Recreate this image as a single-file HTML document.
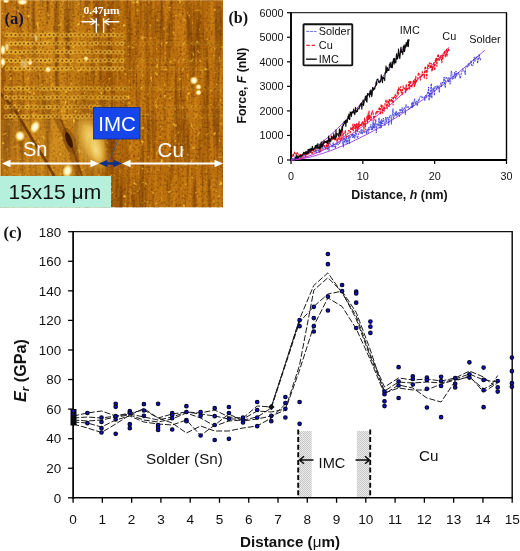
<!DOCTYPE html>
<html><head><meta charset="utf-8"><title>Figure</title>
<style>
html,body{margin:0;padding:0;background:#fff;}
body{width:520px;height:551px;overflow:hidden;}
svg{display:block;}
text{font-family:"Liberation Sans",sans-serif;}
.ser{font-family:"Liberation Serif",serif;font-weight:bold;}
</style></head><body>
<svg width="520" height="551" viewBox="0 0 520 551">
<defs>
<linearGradient id="afmg" x1="0" x2="1" y1="0" y2="0">
<stop offset="0" stop-color="#9c5806"/><stop offset="0.04" stop-color="#bc7212"/><stop offset="0.3" stop-color="#c47e16"/><stop offset="0.47" stop-color="#a86008"/><stop offset="0.6" stop-color="#ba6f0d"/><stop offset="1" stop-color="#b86d0d"/>
</linearGradient>
<radialGradient id="blob"><stop offset="0" stop-color="#f6e090" stop-opacity="0.95"/><stop offset="0.6" stop-color="#ecc050" stop-opacity="0.65"/><stop offset="1" stop-color="#d09020" stop-opacity="0"/></radialGradient>
<radialGradient id="blob2"><stop offset="0" stop-color="#ecc658" stop-opacity="0.6"/><stop offset="0.7" stop-color="#e4b848" stop-opacity="0.4"/><stop offset="1" stop-color="#d8a030" stop-opacity="0"/></radialGradient>
<radialGradient id="wb"><stop offset="0" stop-color="#fffdf0" stop-opacity="1"/><stop offset="0.45" stop-color="#fff4c0" stop-opacity="1"/><stop offset="0.7" stop-color="#f4d060" stop-opacity="0.8"/><stop offset="1" stop-color="#e0a030" stop-opacity="0"/></radialGradient>
<filter id="noise" x="0" y="0" width="100%" height="100%" color-interpolation-filters="sRGB">
<feTurbulence type="fractalNoise" baseFrequency="0.2 0.012" numOctaves="3" seed="5"/>
<feColorMatrix type="matrix" values="0 0 0 0 0.30  0 0 0 0 0.12  0 0 0 0 0  -1.6 0 0 0 0.8"/>
</filter>
<filter id="noiseL" x="0" y="0" width="100%" height="100%" color-interpolation-filters="sRGB">
<feTurbulence type="fractalNoise" baseFrequency="0.2 0.012" numOctaves="3" seed="5"/>
<feColorMatrix type="matrix" values="0 0 0 0 0.92  0 0 0 0 0.62  0 0 0 0 0.12  1.5 0 0 0 -0.7"/>
</filter>
<filter id="noise2" x="0" y="0" width="100%" height="100%" color-interpolation-filters="sRGB">
<feTurbulence type="fractalNoise" baseFrequency="0.22 0.22" numOctaves="2" seed="11"/>
<feColorMatrix type="matrix" values="0 0 0 0 1  0 0 0 0 0.82  0 0 0 0 0.25  0 4.5 0 0 -3.0"/>
</filter>
<filter id="noise3" x="0" y="0" width="100%" height="100%" color-interpolation-filters="sRGB">
<feTurbulence type="fractalNoise" baseFrequency="0.45 0.45" numOctaves="1" seed="23"/>
<feColorMatrix type="matrix" values="0 0 0 0 0.35  0 0 0 0 0.15  0 0 0 0 0  0 0 -2 0 1.0"/>
</filter>
<clipPath id="afmclip"><rect x="0" y="0" width="223" height="207.5"/></clipPath>
<pattern id="hatch" width="2" height="2" patternUnits="userSpaceOnUse"><rect width="2" height="2" fill="#ececec"/><rect width="1" height="1" fill="#c6c6c6"/><rect x="1" y="1" width="1" height="1" fill="#c6c6c6"/></pattern>
</defs>
<g clip-path="url(#afmclip)">
<rect x="0" y="0" width="223" height="207.5" fill="url(#afmg)"/>
<rect x="4" y="31" width="124" height="41" fill="#dca82c" opacity="0.12"/>
<rect x="4" y="85" width="124" height="35" fill="#dca82c" opacity="0.1"/>
<rect x="0" y="0" width="223" height="207.5" filter="url(#noise)" opacity="0.9"/>
<rect x="0" y="0" width="223" height="207.5" filter="url(#noiseL)" opacity="0.8"/>
<rect x="0" y="0" width="223" height="207.5" filter="url(#noise3)" opacity="0.8"/>
<rect x="0" y="0" width="223" height="207.5" filter="url(#noise2)" opacity="0.9"/>
<polygon points="0,120 60,120 100,176 0,176" fill="#e0a830" opacity="0.22"/>
<path d="M0,93 L15,110 L32,139 L47,163 L56,180" stroke="#6a3202" stroke-width="2.6" fill="none" opacity="0.85"/>
<path d="M56,116 L66,136 L74,158 L80,178" stroke="#7a3c04" stroke-width="7" fill="none" opacity="0.42"/>
<path d="M60,118 L70,141 L82,176" stroke="#6a3202" stroke-width="1.6" fill="none" opacity="0.55"/>
<path d="M100,100 L108,130 L112,176" stroke="#7a3c04" stroke-width="5" fill="none" opacity="0.3"/>
<ellipse cx="91" cy="143" rx="17" ry="34" fill="url(#blob2)" transform="rotate(-22 91 143)"/>
<ellipse cx="92" cy="142" rx="13" ry="28" fill="url(#blob)" transform="rotate(-22 92 142)"/>
<ellipse cx="93" cy="141" rx="10" ry="24" fill="url(#blob)" transform="rotate(-22 93 141)"/>
<ellipse cx="96" cy="150" rx="8" ry="17" fill="url(#blob)" transform="rotate(-15 96 150)"/>
<ellipse cx="69.5" cy="141" rx="6" ry="14" fill="#6a3404" opacity="0.4" transform="rotate(-20 69.5 141)"/>
<ellipse cx="69" cy="140" rx="2.8" ry="8.5" fill="#321400" opacity="0.9" transform="rotate(-20 69 140)"/>
<ellipse cx="35" cy="127" rx="5" ry="7.5" fill="url(#wb)" transform="rotate(25 35 127)"/>
<ellipse cx="20" cy="136" rx="5.5" ry="6" fill="url(#wb)" transform="rotate(0 20 136)"/>
<ellipse cx="67.5" cy="171" rx="5.5" ry="7.5" fill="url(#wb)" transform="rotate(15 67.5 171)"/>
<ellipse cx="22.5" cy="2" rx="6" ry="3.5" fill="url(#wb)" transform="rotate(0 22.5 2)"/>
<ellipse cx="6" cy="1" rx="3.5" ry="2.5" fill="url(#wb)" transform="rotate(0 6 1)"/>
<ellipse cx="194" cy="80.5" rx="4.5" ry="4.5" fill="url(#wb)" transform="rotate(0 194 80.5)"/>
<ellipse cx="198.5" cy="87" rx="3.2" ry="3.2" fill="url(#wb)" transform="rotate(0 198.5 87)"/>
<ellipse cx="198.5" cy="92.5" rx="3.2" ry="3.2" fill="url(#wb)" transform="rotate(0 198.5 92.5)"/>
<ellipse cx="3" cy="50" rx="3" ry="6" fill="url(#wb)" transform="rotate(0 3 50)"/>
<ellipse cx="3" cy="62" rx="3" ry="5" fill="url(#wb)" transform="rotate(0 3 62)"/>
<ellipse cx="86" cy="59" rx="3" ry="3" fill="url(#wb)" transform="rotate(0 86 59)"/>
<ellipse cx="30" cy="62" rx="3" ry="4" fill="url(#wb)" transform="rotate(0 30 62)"/>
<circle cx="7.0" cy="34.8" r="1.75" fill="#6e3802" stroke="#e8b432" stroke-width="1.55" opacity="0.60"/><circle cx="11.2" cy="34.7" r="1.75" fill="#6e3802" stroke="#e8b432" stroke-width="1.55" opacity="0.74"/><circle cx="15.5" cy="34.9" r="1.75" fill="#6e3802" stroke="#e8b432" stroke-width="1.55" opacity="0.69"/><circle cx="19.8" cy="35.0" r="1.75" fill="#6e3802" stroke="#e8b432" stroke-width="1.55" opacity="0.48"/><circle cx="24.0" cy="35.0" r="1.75" fill="#6e3802" stroke="#e8b432" stroke-width="1.55" opacity="0.47"/><circle cx="28.2" cy="34.7" r="1.75" fill="#6e3802" stroke="#e8b432" stroke-width="1.55" opacity="0.48"/><circle cx="32.5" cy="35.2" r="1.75" fill="#6e3802" stroke="#e8b432" stroke-width="1.55" opacity="0.64"/><circle cx="36.8" cy="34.8" r="1.75" fill="#6e3802" stroke="#e8b432" stroke-width="1.55" opacity="0.51"/><circle cx="41.0" cy="35.3" r="1.75" fill="#6e3802" stroke="#e8b432" stroke-width="1.55" opacity="0.73"/><circle cx="45.2" cy="34.9" r="1.75" fill="#6e3802" stroke="#e8b432" stroke-width="1.55" opacity="0.71"/><circle cx="49.5" cy="34.7" r="1.75" fill="#6e3802" stroke="#e8b432" stroke-width="1.55" opacity="0.89"/><circle cx="53.8" cy="34.9" r="1.75" fill="#6e3802" stroke="#e8b432" stroke-width="1.55" opacity="0.84"/><circle cx="58.0" cy="34.7" r="1.75" fill="#6e3802" stroke="#e8b432" stroke-width="1.55" opacity="0.51"/><circle cx="62.2" cy="35.2" r="1.75" fill="#6e3802" stroke="#e8b432" stroke-width="1.55" opacity="0.59"/><circle cx="66.5" cy="35.1" r="1.75" fill="#6e3802" stroke="#e8b432" stroke-width="1.55" opacity="0.53"/><circle cx="70.8" cy="34.9" r="1.75" fill="#6e3802" stroke="#e8b432" stroke-width="1.55" opacity="0.74"/><circle cx="75.0" cy="34.7" r="1.75" fill="#6e3802" stroke="#e8b432" stroke-width="1.55" opacity="0.57"/><circle cx="79.2" cy="34.8" r="1.75" fill="#6e3802" stroke="#e8b432" stroke-width="1.55" opacity="0.39"/><circle cx="83.5" cy="34.9" r="1.75" fill="#6e3802" stroke="#e8b432" stroke-width="1.55" opacity="0.62"/><circle cx="87.8" cy="35.1" r="1.75" fill="#6e3802" stroke="#e8b432" stroke-width="1.55" opacity="0.48"/><circle cx="92.0" cy="34.9" r="1.75" fill="#6e3802" stroke="#e8b432" stroke-width="1.55" opacity="0.54"/><circle cx="96.2" cy="35.1" r="1.75" fill="#6e3802" stroke="#e8b432" stroke-width="1.55" opacity="0.66"/><circle cx="100.5" cy="35.1" r="1.75" fill="#6e3802" stroke="#e8b432" stroke-width="1.55" opacity="0.46"/><circle cx="104.8" cy="35.3" r="1.75" fill="#6e3802" stroke="#e8b432" stroke-width="1.55" opacity="0.56"/><circle cx="109.0" cy="34.9" r="1.75" fill="#6e3802" stroke="#e8b432" stroke-width="1.55" opacity="0.64"/><circle cx="113.2" cy="34.7" r="1.75" fill="#6e3802" stroke="#e8b432" stroke-width="1.55" opacity="0.73"/><circle cx="117.5" cy="35.2" r="1.75" fill="#6e3802" stroke="#e8b432" stroke-width="1.55" opacity="0.52"/><circle cx="121.8" cy="35.0" r="1.75" fill="#6e3802" stroke="#e8b432" stroke-width="1.55" opacity="0.43"/>
<circle cx="7.0" cy="43.6" r="1.75" fill="#6e3802" stroke="#e8b432" stroke-width="1.55" opacity="0.47"/><circle cx="11.2" cy="43.6" r="1.75" fill="#6e3802" stroke="#e8b432" stroke-width="1.55" opacity="0.79"/><circle cx="15.5" cy="43.4" r="1.75" fill="#6e3802" stroke="#e8b432" stroke-width="1.55" opacity="0.84"/><circle cx="19.8" cy="43.6" r="1.75" fill="#6e3802" stroke="#e8b432" stroke-width="1.55" opacity="0.76"/><circle cx="24.0" cy="43.5" r="1.75" fill="#6e3802" stroke="#e8b432" stroke-width="1.55" opacity="0.71"/><circle cx="28.2" cy="43.8" r="1.75" fill="#6e3802" stroke="#e8b432" stroke-width="1.55" opacity="0.83"/><circle cx="32.5" cy="43.6" r="1.75" fill="#6e3802" stroke="#e8b432" stroke-width="1.55" opacity="0.66"/><circle cx="36.8" cy="43.6" r="1.75" fill="#6e3802" stroke="#e8b432" stroke-width="1.55" opacity="0.48"/><circle cx="41.0" cy="43.8" r="1.75" fill="#6e3802" stroke="#e8b432" stroke-width="1.55" opacity="0.74"/><circle cx="45.2" cy="43.3" r="1.75" fill="#6e3802" stroke="#e8b432" stroke-width="1.55" opacity="0.82"/><circle cx="49.5" cy="43.6" r="1.75" fill="#6e3802" stroke="#e8b432" stroke-width="1.55" opacity="0.62"/><circle cx="53.8" cy="43.5" r="1.75" fill="#6e3802" stroke="#e8b432" stroke-width="1.55" opacity="0.46"/><circle cx="58.0" cy="43.2" r="1.75" fill="#6e3802" stroke="#e8b432" stroke-width="1.55" opacity="0.53"/><circle cx="62.2" cy="43.7" r="1.75" fill="#6e3802" stroke="#e8b432" stroke-width="1.55" opacity="0.48"/><circle cx="66.5" cy="43.3" r="1.75" fill="#6e3802" stroke="#e8b432" stroke-width="1.55" opacity="0.51"/><circle cx="70.8" cy="43.8" r="1.75" fill="#6e3802" stroke="#e8b432" stroke-width="1.55" opacity="0.63"/><circle cx="75.0" cy="43.5" r="1.75" fill="#6e3802" stroke="#e8b432" stroke-width="1.55" opacity="0.40"/><circle cx="79.2" cy="43.8" r="1.75" fill="#6e3802" stroke="#e8b432" stroke-width="1.55" opacity="0.57"/><circle cx="83.5" cy="43.8" r="1.75" fill="#6e3802" stroke="#e8b432" stroke-width="1.55" opacity="0.67"/><circle cx="87.8" cy="43.4" r="1.75" fill="#6e3802" stroke="#e8b432" stroke-width="1.55" opacity="0.47"/><circle cx="92.0" cy="43.8" r="1.75" fill="#6e3802" stroke="#e8b432" stroke-width="1.55" opacity="0.50"/><circle cx="96.2" cy="43.3" r="1.75" fill="#6e3802" stroke="#e8b432" stroke-width="1.55" opacity="0.72"/><circle cx="100.5" cy="43.3" r="1.75" fill="#6e3802" stroke="#e8b432" stroke-width="1.55" opacity="0.43"/><circle cx="104.8" cy="43.5" r="1.75" fill="#6e3802" stroke="#e8b432" stroke-width="1.55" opacity="0.46"/><circle cx="109.0" cy="43.3" r="1.75" fill="#6e3802" stroke="#e8b432" stroke-width="1.55" opacity="0.59"/><circle cx="113.2" cy="43.4" r="1.75" fill="#6e3802" stroke="#e8b432" stroke-width="1.55" opacity="0.37"/><circle cx="117.5" cy="43.5" r="1.75" fill="#6e3802" stroke="#e8b432" stroke-width="1.55" opacity="0.51"/><circle cx="121.8" cy="43.6" r="1.75" fill="#6e3802" stroke="#e8b432" stroke-width="1.55" opacity="0.72"/>
<circle cx="7.0" cy="52.1" r="1.75" fill="#6e3802" stroke="#e8b432" stroke-width="1.55" opacity="0.68"/><circle cx="11.2" cy="51.7" r="1.75" fill="#6e3802" stroke="#e8b432" stroke-width="1.55" opacity="0.75"/><circle cx="15.5" cy="52.2" r="1.75" fill="#6e3802" stroke="#e8b432" stroke-width="1.55" opacity="0.85"/><circle cx="19.8" cy="52.2" r="1.75" fill="#6e3802" stroke="#e8b432" stroke-width="1.55" opacity="0.84"/><circle cx="24.0" cy="51.9" r="1.75" fill="#6e3802" stroke="#e8b432" stroke-width="1.55" opacity="0.63"/><circle cx="28.2" cy="52.1" r="1.75" fill="#6e3802" stroke="#e8b432" stroke-width="1.55" opacity="0.50"/><circle cx="32.5" cy="51.7" r="1.75" fill="#6e3802" stroke="#e8b432" stroke-width="1.55" opacity="0.48"/><circle cx="36.8" cy="51.8" r="1.75" fill="#6e3802" stroke="#e8b432" stroke-width="1.55" opacity="0.54"/><circle cx="41.0" cy="51.7" r="1.75" fill="#6e3802" stroke="#e8b432" stroke-width="1.55" opacity="0.60"/><circle cx="45.2" cy="51.8" r="1.75" fill="#6e3802" stroke="#e8b432" stroke-width="1.55" opacity="0.45"/><circle cx="49.5" cy="51.9" r="1.75" fill="#6e3802" stroke="#e8b432" stroke-width="1.55" opacity="0.50"/><circle cx="53.8" cy="52.3" r="1.75" fill="#6e3802" stroke="#e8b432" stroke-width="1.55" opacity="0.46"/><circle cx="58.0" cy="51.8" r="1.75" fill="#6e3802" stroke="#e8b432" stroke-width="1.55" opacity="0.73"/><circle cx="62.2" cy="51.9" r="1.75" fill="#6e3802" stroke="#e8b432" stroke-width="1.55" opacity="0.56"/><circle cx="66.5" cy="51.7" r="1.75" fill="#6e3802" stroke="#e8b432" stroke-width="1.55" opacity="0.61"/><circle cx="70.8" cy="52.3" r="1.75" fill="#6e3802" stroke="#e8b432" stroke-width="1.55" opacity="0.83"/><circle cx="75.0" cy="52.0" r="1.75" fill="#6e3802" stroke="#e8b432" stroke-width="1.55" opacity="0.54"/><circle cx="79.2" cy="51.7" r="1.75" fill="#6e3802" stroke="#e8b432" stroke-width="1.55" opacity="0.40"/><circle cx="83.5" cy="51.8" r="1.75" fill="#6e3802" stroke="#e8b432" stroke-width="1.55" opacity="0.50"/><circle cx="87.8" cy="51.8" r="1.75" fill="#6e3802" stroke="#e8b432" stroke-width="1.55" opacity="0.67"/><circle cx="92.0" cy="52.3" r="1.75" fill="#6e3802" stroke="#e8b432" stroke-width="1.55" opacity="0.38"/><circle cx="96.2" cy="51.8" r="1.75" fill="#6e3802" stroke="#e8b432" stroke-width="1.55" opacity="0.56"/><circle cx="100.5" cy="51.7" r="1.75" fill="#6e3802" stroke="#e8b432" stroke-width="1.55" opacity="0.57"/><circle cx="104.8" cy="52.3" r="1.75" fill="#6e3802" stroke="#e8b432" stroke-width="1.55" opacity="0.56"/><circle cx="109.0" cy="52.1" r="1.75" fill="#6e3802" stroke="#e8b432" stroke-width="1.55" opacity="0.69"/><circle cx="113.2" cy="51.9" r="1.75" fill="#6e3802" stroke="#e8b432" stroke-width="1.55" opacity="0.47"/><circle cx="117.5" cy="52.2" r="1.75" fill="#6e3802" stroke="#e8b432" stroke-width="1.55" opacity="0.43"/><circle cx="121.8" cy="52.2" r="1.75" fill="#6e3802" stroke="#e8b432" stroke-width="1.55" opacity="0.57"/>
<circle cx="7.0" cy="60.3" r="1.75" fill="#6e3802" stroke="#e8b432" stroke-width="1.55" opacity="0.60"/><circle cx="11.2" cy="60.8" r="1.75" fill="#6e3802" stroke="#e8b432" stroke-width="1.55" opacity="0.82"/><circle cx="15.5" cy="60.7" r="1.75" fill="#6e3802" stroke="#e8b432" stroke-width="1.55" opacity="0.83"/><circle cx="19.8" cy="60.7" r="1.75" fill="#6e3802" stroke="#e8b432" stroke-width="1.55" opacity="0.82"/><circle cx="24.0" cy="60.5" r="1.75" fill="#6e3802" stroke="#e8b432" stroke-width="1.55" opacity="0.55"/><circle cx="28.2" cy="60.2" r="1.75" fill="#6e3802" stroke="#e8b432" stroke-width="1.55" opacity="0.61"/><circle cx="32.5" cy="60.3" r="1.75" fill="#6e3802" stroke="#e8b432" stroke-width="1.55" opacity="0.46"/><circle cx="36.8" cy="60.6" r="1.75" fill="#6e3802" stroke="#e8b432" stroke-width="1.55" opacity="0.57"/><circle cx="41.0" cy="60.5" r="1.75" fill="#6e3802" stroke="#e8b432" stroke-width="1.55" opacity="0.88"/><circle cx="45.2" cy="60.8" r="1.75" fill="#6e3802" stroke="#e8b432" stroke-width="1.55" opacity="0.87"/><circle cx="49.5" cy="60.4" r="1.75" fill="#6e3802" stroke="#e8b432" stroke-width="1.55" opacity="0.88"/><circle cx="53.8" cy="60.3" r="1.75" fill="#6e3802" stroke="#e8b432" stroke-width="1.55" opacity="0.55"/><circle cx="58.0" cy="60.3" r="1.75" fill="#6e3802" stroke="#e8b432" stroke-width="1.55" opacity="0.54"/><circle cx="62.2" cy="60.8" r="1.75" fill="#6e3802" stroke="#e8b432" stroke-width="1.55" opacity="0.73"/><circle cx="66.5" cy="60.5" r="1.75" fill="#6e3802" stroke="#e8b432" stroke-width="1.55" opacity="0.83"/><circle cx="70.8" cy="60.7" r="1.75" fill="#6e3802" stroke="#e8b432" stroke-width="1.55" opacity="0.74"/><circle cx="75.0" cy="60.6" r="1.75" fill="#6e3802" stroke="#e8b432" stroke-width="1.55" opacity="0.40"/><circle cx="79.2" cy="60.7" r="1.75" fill="#6e3802" stroke="#e8b432" stroke-width="1.55" opacity="0.70"/><circle cx="83.5" cy="60.5" r="1.75" fill="#6e3802" stroke="#e8b432" stroke-width="1.55" opacity="0.65"/><circle cx="87.8" cy="60.7" r="1.75" fill="#6e3802" stroke="#e8b432" stroke-width="1.55" opacity="0.43"/><circle cx="92.0" cy="60.7" r="1.75" fill="#6e3802" stroke="#e8b432" stroke-width="1.55" opacity="0.49"/><circle cx="96.2" cy="60.4" r="1.75" fill="#6e3802" stroke="#e8b432" stroke-width="1.55" opacity="0.73"/><circle cx="100.5" cy="60.8" r="1.75" fill="#6e3802" stroke="#e8b432" stroke-width="1.55" opacity="0.52"/><circle cx="104.8" cy="60.3" r="1.75" fill="#6e3802" stroke="#e8b432" stroke-width="1.55" opacity="0.64"/><circle cx="109.0" cy="60.3" r="1.75" fill="#6e3802" stroke="#e8b432" stroke-width="1.55" opacity="0.42"/><circle cx="113.2" cy="60.7" r="1.75" fill="#6e3802" stroke="#e8b432" stroke-width="1.55" opacity="0.70"/><circle cx="117.5" cy="60.7" r="1.75" fill="#6e3802" stroke="#e8b432" stroke-width="1.55" opacity="0.42"/><circle cx="121.8" cy="60.6" r="1.75" fill="#6e3802" stroke="#e8b432" stroke-width="1.55" opacity="0.73"/>
<circle cx="7.0" cy="68.5" r="1.75" fill="#6e3802" stroke="#e8b432" stroke-width="1.55" opacity="0.61"/><circle cx="11.2" cy="68.2" r="1.75" fill="#6e3802" stroke="#e8b432" stroke-width="1.55" opacity="0.51"/><circle cx="15.5" cy="68.6" r="1.75" fill="#6e3802" stroke="#e8b432" stroke-width="1.55" opacity="0.89"/><circle cx="19.8" cy="68.8" r="1.75" fill="#6e3802" stroke="#e8b432" stroke-width="1.55" opacity="0.69"/><circle cx="24.0" cy="68.8" r="1.75" fill="#6e3802" stroke="#e8b432" stroke-width="1.55" opacity="0.65"/><circle cx="28.2" cy="68.3" r="1.75" fill="#6e3802" stroke="#e8b432" stroke-width="1.55" opacity="0.82"/><circle cx="32.5" cy="68.4" r="1.75" fill="#6e3802" stroke="#e8b432" stroke-width="1.55" opacity="0.56"/><circle cx="36.8" cy="68.6" r="1.75" fill="#6e3802" stroke="#e8b432" stroke-width="1.55" opacity="0.56"/><circle cx="41.0" cy="68.4" r="1.75" fill="#6e3802" stroke="#e8b432" stroke-width="1.55" opacity="0.57"/><circle cx="45.2" cy="68.8" r="1.75" fill="#6e3802" stroke="#e8b432" stroke-width="1.55" opacity="0.51"/><circle cx="49.5" cy="68.5" r="1.75" fill="#6e3802" stroke="#e8b432" stroke-width="1.55" opacity="0.61"/><circle cx="53.8" cy="68.8" r="1.75" fill="#6e3802" stroke="#e8b432" stroke-width="1.55" opacity="0.71"/><circle cx="58.0" cy="68.8" r="1.75" fill="#6e3802" stroke="#e8b432" stroke-width="1.55" opacity="0.64"/><circle cx="62.2" cy="68.5" r="1.75" fill="#6e3802" stroke="#e8b432" stroke-width="1.55" opacity="0.68"/><circle cx="66.5" cy="68.2" r="1.75" fill="#6e3802" stroke="#e8b432" stroke-width="1.55" opacity="0.69"/><circle cx="70.8" cy="68.3" r="1.75" fill="#6e3802" stroke="#e8b432" stroke-width="1.55" opacity="0.65"/><circle cx="75.0" cy="68.7" r="1.75" fill="#6e3802" stroke="#e8b432" stroke-width="1.55" opacity="0.37"/><circle cx="79.2" cy="68.5" r="1.75" fill="#6e3802" stroke="#e8b432" stroke-width="1.55" opacity="0.43"/><circle cx="83.5" cy="68.5" r="1.75" fill="#6e3802" stroke="#e8b432" stroke-width="1.55" opacity="0.64"/><circle cx="87.8" cy="68.5" r="1.75" fill="#6e3802" stroke="#e8b432" stroke-width="1.55" opacity="0.49"/><circle cx="92.0" cy="68.7" r="1.75" fill="#6e3802" stroke="#e8b432" stroke-width="1.55" opacity="0.57"/><circle cx="96.2" cy="68.5" r="1.75" fill="#6e3802" stroke="#e8b432" stroke-width="1.55" opacity="0.41"/><circle cx="100.5" cy="68.3" r="1.75" fill="#6e3802" stroke="#e8b432" stroke-width="1.55" opacity="0.46"/><circle cx="104.8" cy="68.5" r="1.75" fill="#6e3802" stroke="#e8b432" stroke-width="1.55" opacity="0.65"/><circle cx="109.0" cy="68.7" r="1.75" fill="#6e3802" stroke="#e8b432" stroke-width="1.55" opacity="0.58"/><circle cx="113.2" cy="68.5" r="1.75" fill="#6e3802" stroke="#e8b432" stroke-width="1.55" opacity="0.71"/><circle cx="117.5" cy="68.5" r="1.75" fill="#6e3802" stroke="#e8b432" stroke-width="1.55" opacity="0.60"/><circle cx="121.8" cy="68.6" r="1.75" fill="#6e3802" stroke="#e8b432" stroke-width="1.55" opacity="0.56"/>
<circle cx="6.0" cy="88.5" r="1.75" fill="#6e3802" stroke="#e8b432" stroke-width="1.55" opacity="0.58"/><circle cx="10.2" cy="88.8" r="1.75" fill="#6e3802" stroke="#e8b432" stroke-width="1.55" opacity="0.59"/><circle cx="14.5" cy="88.8" r="1.75" fill="#6e3802" stroke="#e8b432" stroke-width="1.55" opacity="0.68"/><circle cx="18.8" cy="88.3" r="1.75" fill="#6e3802" stroke="#e8b432" stroke-width="1.55" opacity="0.78"/><circle cx="23.0" cy="88.8" r="1.75" fill="#6e3802" stroke="#e8b432" stroke-width="1.55" opacity="0.62"/><circle cx="27.2" cy="88.2" r="1.75" fill="#6e3802" stroke="#e8b432" stroke-width="1.55" opacity="0.74"/><circle cx="31.5" cy="88.5" r="1.75" fill="#6e3802" stroke="#e8b432" stroke-width="1.55" opacity="0.45"/><circle cx="35.8" cy="88.3" r="1.75" fill="#6e3802" stroke="#e8b432" stroke-width="1.55" opacity="0.43"/><circle cx="40.0" cy="88.6" r="1.75" fill="#6e3802" stroke="#e8b432" stroke-width="1.55" opacity="0.43"/><circle cx="44.2" cy="88.8" r="1.75" fill="#6e3802" stroke="#e8b432" stroke-width="1.55" opacity="0.71"/><circle cx="48.5" cy="88.7" r="1.75" fill="#6e3802" stroke="#e8b432" stroke-width="1.55" opacity="0.46"/><circle cx="52.8" cy="88.3" r="1.75" fill="#6e3802" stroke="#e8b432" stroke-width="1.55" opacity="0.66"/><circle cx="57.0" cy="88.8" r="1.75" fill="#6e3802" stroke="#e8b432" stroke-width="1.55" opacity="0.75"/><circle cx="61.2" cy="88.8" r="1.75" fill="#6e3802" stroke="#e8b432" stroke-width="1.55" opacity="0.49"/><circle cx="65.5" cy="88.5" r="1.75" fill="#6e3802" stroke="#e8b432" stroke-width="1.55" opacity="0.56"/><circle cx="69.8" cy="88.7" r="1.75" fill="#6e3802" stroke="#e8b432" stroke-width="1.55" opacity="0.80"/><circle cx="74.0" cy="88.5" r="1.75" fill="#6e3802" stroke="#e8b432" stroke-width="1.55" opacity="0.46"/><circle cx="78.2" cy="88.4" r="1.75" fill="#6e3802" stroke="#e8b432" stroke-width="1.55" opacity="0.50"/><circle cx="82.5" cy="88.4" r="1.75" fill="#6e3802" stroke="#e8b432" stroke-width="1.55" opacity="0.39"/><circle cx="86.8" cy="88.2" r="1.75" fill="#6e3802" stroke="#e8b432" stroke-width="1.55" opacity="0.56"/><circle cx="91.0" cy="88.5" r="1.75" fill="#6e3802" stroke="#e8b432" stroke-width="1.55" opacity="0.51"/><circle cx="95.2" cy="88.4" r="1.75" fill="#6e3802" stroke="#e8b432" stroke-width="1.55" opacity="0.33"/><circle cx="99.5" cy="88.5" r="1.75" fill="#6e3802" stroke="#e8b432" stroke-width="1.55" opacity="0.53"/><circle cx="103.8" cy="88.8" r="1.75" fill="#6e3802" stroke="#e8b432" stroke-width="1.55" opacity="0.35"/><circle cx="108.0" cy="88.8" r="1.75" fill="#6e3802" stroke="#e8b432" stroke-width="1.55" opacity="0.59"/><circle cx="112.2" cy="88.3" r="1.75" fill="#6e3802" stroke="#e8b432" stroke-width="1.55" opacity="0.36"/><circle cx="116.5" cy="88.7" r="1.75" fill="#6e3802" stroke="#e8b432" stroke-width="1.55" opacity="0.34"/><circle cx="120.8" cy="88.2" r="1.75" fill="#6e3802" stroke="#e8b432" stroke-width="1.55" opacity="0.42"/><circle cx="125.0" cy="88.8" r="1.75" fill="#6e3802" stroke="#e8b432" stroke-width="1.55" opacity="0.47"/>
<circle cx="6.0" cy="97.3" r="1.75" fill="#6e3802" stroke="#e8b432" stroke-width="1.55" opacity="0.73"/><circle cx="10.2" cy="97.8" r="1.75" fill="#6e3802" stroke="#e8b432" stroke-width="1.55" opacity="0.46"/><circle cx="14.5" cy="97.6" r="1.75" fill="#6e3802" stroke="#e8b432" stroke-width="1.55" opacity="0.63"/><circle cx="18.8" cy="97.2" r="1.75" fill="#6e3802" stroke="#e8b432" stroke-width="1.55" opacity="0.44"/><circle cx="23.0" cy="97.4" r="1.75" fill="#6e3802" stroke="#e8b432" stroke-width="1.55" opacity="0.68"/><circle cx="27.2" cy="97.8" r="1.75" fill="#6e3802" stroke="#e8b432" stroke-width="1.55" opacity="0.43"/><circle cx="31.5" cy="97.7" r="1.75" fill="#6e3802" stroke="#e8b432" stroke-width="1.55" opacity="0.65"/><circle cx="35.8" cy="97.7" r="1.75" fill="#6e3802" stroke="#e8b432" stroke-width="1.55" opacity="0.43"/><circle cx="40.0" cy="97.8" r="1.75" fill="#6e3802" stroke="#e8b432" stroke-width="1.55" opacity="0.43"/><circle cx="44.2" cy="97.4" r="1.75" fill="#6e3802" stroke="#e8b432" stroke-width="1.55" opacity="0.58"/><circle cx="48.5" cy="97.8" r="1.75" fill="#6e3802" stroke="#e8b432" stroke-width="1.55" opacity="0.62"/><circle cx="52.8" cy="97.2" r="1.75" fill="#6e3802" stroke="#e8b432" stroke-width="1.55" opacity="0.51"/><circle cx="57.0" cy="97.3" r="1.75" fill="#6e3802" stroke="#e8b432" stroke-width="1.55" opacity="0.61"/><circle cx="61.2" cy="97.3" r="1.75" fill="#6e3802" stroke="#e8b432" stroke-width="1.55" opacity="0.44"/><circle cx="65.5" cy="97.3" r="1.75" fill="#6e3802" stroke="#e8b432" stroke-width="1.55" opacity="0.42"/><circle cx="69.8" cy="97.4" r="1.75" fill="#6e3802" stroke="#e8b432" stroke-width="1.55" opacity="0.52"/><circle cx="74.0" cy="97.4" r="1.75" fill="#6e3802" stroke="#e8b432" stroke-width="1.55" opacity="0.70"/><circle cx="78.2" cy="97.3" r="1.75" fill="#6e3802" stroke="#e8b432" stroke-width="1.55" opacity="0.49"/><circle cx="82.5" cy="97.2" r="1.75" fill="#6e3802" stroke="#e8b432" stroke-width="1.55" opacity="0.44"/><circle cx="86.8" cy="97.2" r="1.75" fill="#6e3802" stroke="#e8b432" stroke-width="1.55" opacity="0.41"/><circle cx="91.0" cy="97.5" r="1.75" fill="#6e3802" stroke="#e8b432" stroke-width="1.55" opacity="0.57"/><circle cx="95.2" cy="97.5" r="1.75" fill="#6e3802" stroke="#e8b432" stroke-width="1.55" opacity="0.39"/><circle cx="99.5" cy="97.2" r="1.75" fill="#6e3802" stroke="#e8b432" stroke-width="1.55" opacity="0.63"/><circle cx="103.8" cy="97.5" r="1.75" fill="#6e3802" stroke="#e8b432" stroke-width="1.55" opacity="0.60"/><circle cx="108.0" cy="97.7" r="1.75" fill="#6e3802" stroke="#e8b432" stroke-width="1.55" opacity="0.49"/><circle cx="112.2" cy="97.5" r="1.75" fill="#6e3802" stroke="#e8b432" stroke-width="1.55" opacity="0.46"/><circle cx="116.5" cy="97.8" r="1.75" fill="#6e3802" stroke="#e8b432" stroke-width="1.55" opacity="0.55"/><circle cx="120.8" cy="97.7" r="1.75" fill="#6e3802" stroke="#e8b432" stroke-width="1.55" opacity="0.44"/><circle cx="125.0" cy="97.6" r="1.75" fill="#6e3802" stroke="#e8b432" stroke-width="1.55" opacity="0.56"/>
<circle cx="6.0" cy="106.9" r="1.75" fill="#6e3802" stroke="#e8b432" stroke-width="1.55" opacity="0.56"/><circle cx="10.2" cy="106.7" r="1.75" fill="#6e3802" stroke="#e8b432" stroke-width="1.55" opacity="0.42"/><circle cx="14.5" cy="107.2" r="1.75" fill="#6e3802" stroke="#e8b432" stroke-width="1.55" opacity="0.43"/><circle cx="18.8" cy="106.8" r="1.75" fill="#6e3802" stroke="#e8b432" stroke-width="1.55" opacity="0.50"/><circle cx="23.0" cy="107.2" r="1.75" fill="#6e3802" stroke="#e8b432" stroke-width="1.55" opacity="0.43"/><circle cx="27.2" cy="107.1" r="1.75" fill="#6e3802" stroke="#e8b432" stroke-width="1.55" opacity="0.75"/><circle cx="31.5" cy="106.8" r="1.75" fill="#6e3802" stroke="#e8b432" stroke-width="1.55" opacity="0.51"/><circle cx="35.8" cy="107.0" r="1.75" fill="#6e3802" stroke="#e8b432" stroke-width="1.55" opacity="0.52"/><circle cx="40.0" cy="107.0" r="1.75" fill="#6e3802" stroke="#e8b432" stroke-width="1.55" opacity="0.46"/><circle cx="44.2" cy="107.3" r="1.75" fill="#6e3802" stroke="#e8b432" stroke-width="1.55" opacity="0.51"/><circle cx="48.5" cy="107.0" r="1.75" fill="#6e3802" stroke="#e8b432" stroke-width="1.55" opacity="0.79"/><circle cx="52.8" cy="107.3" r="1.75" fill="#6e3802" stroke="#e8b432" stroke-width="1.55" opacity="0.50"/><circle cx="57.0" cy="106.9" r="1.75" fill="#6e3802" stroke="#e8b432" stroke-width="1.55" opacity="0.52"/><circle cx="61.2" cy="106.9" r="1.75" fill="#6e3802" stroke="#e8b432" stroke-width="1.55" opacity="0.40"/><circle cx="65.5" cy="107.0" r="1.75" fill="#6e3802" stroke="#e8b432" stroke-width="1.55" opacity="0.59"/><circle cx="69.8" cy="107.0" r="1.75" fill="#6e3802" stroke="#e8b432" stroke-width="1.55" opacity="0.48"/><circle cx="74.0" cy="106.8" r="1.75" fill="#6e3802" stroke="#e8b432" stroke-width="1.55" opacity="0.40"/><circle cx="78.2" cy="106.9" r="1.75" fill="#6e3802" stroke="#e8b432" stroke-width="1.55" opacity="0.36"/><circle cx="82.5" cy="106.7" r="1.75" fill="#6e3802" stroke="#e8b432" stroke-width="1.55" opacity="0.34"/><circle cx="86.8" cy="106.8" r="1.75" fill="#6e3802" stroke="#e8b432" stroke-width="1.55" opacity="0.43"/><circle cx="91.0" cy="107.0" r="1.75" fill="#6e3802" stroke="#e8b432" stroke-width="1.55" opacity="0.52"/><circle cx="95.2" cy="107.1" r="1.75" fill="#6e3802" stroke="#e8b432" stroke-width="1.55" opacity="0.57"/><circle cx="99.5" cy="107.3" r="1.75" fill="#6e3802" stroke="#e8b432" stroke-width="1.55" opacity="0.56"/>
<circle cx="6.0" cy="116.4" r="1.75" fill="#6e3802" stroke="#e8b432" stroke-width="1.55" opacity="0.56"/><circle cx="10.2" cy="116.3" r="1.75" fill="#6e3802" stroke="#e8b432" stroke-width="1.55" opacity="0.79"/><circle cx="14.5" cy="116.6" r="1.75" fill="#6e3802" stroke="#e8b432" stroke-width="1.55" opacity="0.69"/><circle cx="18.8" cy="116.7" r="1.75" fill="#6e3802" stroke="#e8b432" stroke-width="1.55" opacity="0.42"/><circle cx="23.0" cy="116.6" r="1.75" fill="#6e3802" stroke="#e8b432" stroke-width="1.55" opacity="0.76"/><circle cx="27.2" cy="116.7" r="1.75" fill="#6e3802" stroke="#e8b432" stroke-width="1.55" opacity="0.69"/><circle cx="31.5" cy="116.5" r="1.75" fill="#6e3802" stroke="#e8b432" stroke-width="1.55" opacity="0.46"/><circle cx="35.8" cy="116.7" r="1.75" fill="#6e3802" stroke="#e8b432" stroke-width="1.55" opacity="0.60"/><circle cx="40.0" cy="116.7" r="1.75" fill="#6e3802" stroke="#e8b432" stroke-width="1.55" opacity="0.72"/><circle cx="44.2" cy="116.8" r="1.75" fill="#6e3802" stroke="#e8b432" stroke-width="1.55" opacity="0.63"/><circle cx="48.5" cy="116.6" r="1.75" fill="#6e3802" stroke="#e8b432" stroke-width="1.55" opacity="0.67"/><circle cx="52.8" cy="116.2" r="1.75" fill="#6e3802" stroke="#e8b432" stroke-width="1.55" opacity="0.49"/><circle cx="57.0" cy="116.4" r="1.75" fill="#6e3802" stroke="#e8b432" stroke-width="1.55" opacity="0.45"/><circle cx="61.2" cy="116.7" r="1.75" fill="#6e3802" stroke="#e8b432" stroke-width="1.55" opacity="0.44"/><circle cx="65.5" cy="116.6" r="1.75" fill="#6e3802" stroke="#e8b432" stroke-width="1.55" opacity="0.62"/><circle cx="69.8" cy="116.6" r="1.75" fill="#6e3802" stroke="#e8b432" stroke-width="1.55" opacity="0.65"/><circle cx="74.0" cy="116.2" r="1.75" fill="#6e3802" stroke="#e8b432" stroke-width="1.55" opacity="0.60"/><circle cx="78.2" cy="116.7" r="1.75" fill="#6e3802" stroke="#e8b432" stroke-width="1.55" opacity="0.59"/><circle cx="82.5" cy="116.5" r="1.75" fill="#6e3802" stroke="#e8b432" stroke-width="1.55" opacity="0.49"/><circle cx="86.8" cy="116.2" r="1.75" fill="#6e3802" stroke="#e8b432" stroke-width="1.55" opacity="0.54"/><circle cx="91.0" cy="116.3" r="1.75" fill="#6e3802" stroke="#e8b432" stroke-width="1.55" opacity="0.57"/>
<circle cx="130.0" cy="43.3" r="1.75" fill="#6e3802" stroke="#e8b432" stroke-width="1.55" opacity="0.09"/><circle cx="134.2" cy="43.3" r="1.75" fill="#6e3802" stroke="#e8b432" stroke-width="1.55" opacity="0.14"/><circle cx="138.5" cy="43.8" r="1.75" fill="#6e3802" stroke="#e8b432" stroke-width="1.55" opacity="0.14"/><circle cx="142.8" cy="43.4" r="1.75" fill="#6e3802" stroke="#e8b432" stroke-width="1.55" opacity="0.12"/><circle cx="147.0" cy="43.6" r="1.75" fill="#6e3802" stroke="#e8b432" stroke-width="1.55" opacity="0.12"/><circle cx="151.2" cy="43.6" r="1.75" fill="#6e3802" stroke="#e8b432" stroke-width="1.55" opacity="0.14"/><circle cx="155.5" cy="43.2" r="1.75" fill="#6e3802" stroke="#e8b432" stroke-width="1.55" opacity="0.13"/><circle cx="159.8" cy="43.3" r="1.75" fill="#6e3802" stroke="#e8b432" stroke-width="1.55" opacity="0.09"/><circle cx="164.0" cy="43.4" r="1.75" fill="#6e3802" stroke="#e8b432" stroke-width="1.55" opacity="0.14"/><circle cx="168.2" cy="43.2" r="1.75" fill="#6e3802" stroke="#e8b432" stroke-width="1.55" opacity="0.13"/><circle cx="172.5" cy="43.3" r="1.75" fill="#6e3802" stroke="#e8b432" stroke-width="1.55" opacity="0.09"/><circle cx="176.8" cy="43.6" r="1.75" fill="#6e3802" stroke="#e8b432" stroke-width="1.55" opacity="0.14"/><circle cx="181.0" cy="43.4" r="1.75" fill="#6e3802" stroke="#e8b432" stroke-width="1.55" opacity="0.14"/><circle cx="185.2" cy="43.5" r="1.75" fill="#6e3802" stroke="#e8b432" stroke-width="1.55" opacity="0.12"/><circle cx="189.5" cy="43.2" r="1.75" fill="#6e3802" stroke="#e8b432" stroke-width="1.55" opacity="0.12"/><circle cx="193.8" cy="43.3" r="1.75" fill="#6e3802" stroke="#e8b432" stroke-width="1.55" opacity="0.16"/><circle cx="198.0" cy="43.8" r="1.75" fill="#6e3802" stroke="#e8b432" stroke-width="1.55" opacity="0.16"/><circle cx="202.2" cy="43.5" r="1.75" fill="#6e3802" stroke="#e8b432" stroke-width="1.55" opacity="0.08"/><circle cx="206.5" cy="43.8" r="1.75" fill="#6e3802" stroke="#e8b432" stroke-width="1.55" opacity="0.15"/><circle cx="210.8" cy="43.3" r="1.75" fill="#6e3802" stroke="#e8b432" stroke-width="1.55" opacity="0.12"/><circle cx="215.0" cy="43.8" r="1.75" fill="#6e3802" stroke="#e8b432" stroke-width="1.55" opacity="0.10"/><circle cx="219.2" cy="43.6" r="1.75" fill="#6e3802" stroke="#e8b432" stroke-width="1.55" opacity="0.10"/>
<circle cx="130.0" cy="60.5" r="1.75" fill="#6e3802" stroke="#e8b432" stroke-width="1.55" opacity="0.09"/><circle cx="134.2" cy="60.2" r="1.75" fill="#6e3802" stroke="#e8b432" stroke-width="1.55" opacity="0.16"/><circle cx="138.5" cy="60.5" r="1.75" fill="#6e3802" stroke="#e8b432" stroke-width="1.55" opacity="0.15"/><circle cx="142.8" cy="60.6" r="1.75" fill="#6e3802" stroke="#e8b432" stroke-width="1.55" opacity="0.15"/><circle cx="147.0" cy="60.8" r="1.75" fill="#6e3802" stroke="#e8b432" stroke-width="1.55" opacity="0.10"/><circle cx="151.2" cy="60.2" r="1.75" fill="#6e3802" stroke="#e8b432" stroke-width="1.55" opacity="0.12"/><circle cx="155.5" cy="60.5" r="1.75" fill="#6e3802" stroke="#e8b432" stroke-width="1.55" opacity="0.08"/><circle cx="159.8" cy="60.4" r="1.75" fill="#6e3802" stroke="#e8b432" stroke-width="1.55" opacity="0.12"/><circle cx="164.0" cy="60.4" r="1.75" fill="#6e3802" stroke="#e8b432" stroke-width="1.55" opacity="0.09"/><circle cx="168.2" cy="60.7" r="1.75" fill="#6e3802" stroke="#e8b432" stroke-width="1.55" opacity="0.11"/><circle cx="172.5" cy="60.7" r="1.75" fill="#6e3802" stroke="#e8b432" stroke-width="1.55" opacity="0.08"/><circle cx="176.8" cy="60.2" r="1.75" fill="#6e3802" stroke="#e8b432" stroke-width="1.55" opacity="0.15"/><circle cx="181.0" cy="60.6" r="1.75" fill="#6e3802" stroke="#e8b432" stroke-width="1.55" opacity="0.16"/><circle cx="185.2" cy="60.4" r="1.75" fill="#6e3802" stroke="#e8b432" stroke-width="1.55" opacity="0.16"/><circle cx="189.5" cy="60.4" r="1.75" fill="#6e3802" stroke="#e8b432" stroke-width="1.55" opacity="0.11"/><circle cx="193.8" cy="60.6" r="1.75" fill="#6e3802" stroke="#e8b432" stroke-width="1.55" opacity="0.16"/><circle cx="198.0" cy="60.4" r="1.75" fill="#6e3802" stroke="#e8b432" stroke-width="1.55" opacity="0.11"/><circle cx="202.2" cy="60.2" r="1.75" fill="#6e3802" stroke="#e8b432" stroke-width="1.55" opacity="0.10"/><circle cx="206.5" cy="60.7" r="1.75" fill="#6e3802" stroke="#e8b432" stroke-width="1.55" opacity="0.09"/><circle cx="210.8" cy="60.8" r="1.75" fill="#6e3802" stroke="#e8b432" stroke-width="1.55" opacity="0.11"/><circle cx="215.0" cy="60.3" r="1.75" fill="#6e3802" stroke="#e8b432" stroke-width="1.55" opacity="0.10"/><circle cx="219.2" cy="60.3" r="1.75" fill="#6e3802" stroke="#e8b432" stroke-width="1.55" opacity="0.12"/>
<circle cx="130.0" cy="68.8" r="1.75" fill="#6e3802" stroke="#e8b432" stroke-width="1.55" opacity="0.11"/><circle cx="134.2" cy="68.7" r="1.75" fill="#6e3802" stroke="#e8b432" stroke-width="1.55" opacity="0.15"/><circle cx="138.5" cy="68.8" r="1.75" fill="#6e3802" stroke="#e8b432" stroke-width="1.55" opacity="0.13"/><circle cx="142.8" cy="68.5" r="1.75" fill="#6e3802" stroke="#e8b432" stroke-width="1.55" opacity="0.16"/><circle cx="147.0" cy="68.2" r="1.75" fill="#6e3802" stroke="#e8b432" stroke-width="1.55" opacity="0.14"/><circle cx="151.2" cy="68.5" r="1.75" fill="#6e3802" stroke="#e8b432" stroke-width="1.55" opacity="0.14"/><circle cx="155.5" cy="68.6" r="1.75" fill="#6e3802" stroke="#e8b432" stroke-width="1.55" opacity="0.14"/><circle cx="159.8" cy="68.2" r="1.75" fill="#6e3802" stroke="#e8b432" stroke-width="1.55" opacity="0.11"/><circle cx="164.0" cy="68.2" r="1.75" fill="#6e3802" stroke="#e8b432" stroke-width="1.55" opacity="0.16"/><circle cx="168.2" cy="68.4" r="1.75" fill="#6e3802" stroke="#e8b432" stroke-width="1.55" opacity="0.12"/><circle cx="172.5" cy="68.7" r="1.75" fill="#6e3802" stroke="#e8b432" stroke-width="1.55" opacity="0.11"/><circle cx="176.8" cy="68.3" r="1.75" fill="#6e3802" stroke="#e8b432" stroke-width="1.55" opacity="0.16"/><circle cx="181.0" cy="68.4" r="1.75" fill="#6e3802" stroke="#e8b432" stroke-width="1.55" opacity="0.14"/><circle cx="185.2" cy="68.4" r="1.75" fill="#6e3802" stroke="#e8b432" stroke-width="1.55" opacity="0.13"/><circle cx="189.5" cy="68.3" r="1.75" fill="#6e3802" stroke="#e8b432" stroke-width="1.55" opacity="0.10"/><circle cx="193.8" cy="68.8" r="1.75" fill="#6e3802" stroke="#e8b432" stroke-width="1.55" opacity="0.10"/><circle cx="198.0" cy="68.3" r="1.75" fill="#6e3802" stroke="#e8b432" stroke-width="1.55" opacity="0.12"/><circle cx="202.2" cy="68.8" r="1.75" fill="#6e3802" stroke="#e8b432" stroke-width="1.55" opacity="0.16"/><circle cx="206.5" cy="68.2" r="1.75" fill="#6e3802" stroke="#e8b432" stroke-width="1.55" opacity="0.12"/><circle cx="210.8" cy="68.2" r="1.75" fill="#6e3802" stroke="#e8b432" stroke-width="1.55" opacity="0.10"/><circle cx="215.0" cy="68.2" r="1.75" fill="#6e3802" stroke="#e8b432" stroke-width="1.55" opacity="0.11"/><circle cx="219.2" cy="68.3" r="1.75" fill="#6e3802" stroke="#e8b432" stroke-width="1.55" opacity="0.10"/>
<circle cx="130.0" cy="88.8" r="1.75" fill="#6e3802" stroke="#e8b432" stroke-width="1.55" opacity="0.13"/><circle cx="134.2" cy="88.4" r="1.75" fill="#6e3802" stroke="#e8b432" stroke-width="1.55" opacity="0.14"/><circle cx="138.5" cy="88.5" r="1.75" fill="#6e3802" stroke="#e8b432" stroke-width="1.55" opacity="0.12"/><circle cx="142.8" cy="88.4" r="1.75" fill="#6e3802" stroke="#e8b432" stroke-width="1.55" opacity="0.11"/><circle cx="147.0" cy="88.3" r="1.75" fill="#6e3802" stroke="#e8b432" stroke-width="1.55" opacity="0.09"/><circle cx="151.2" cy="88.2" r="1.75" fill="#6e3802" stroke="#e8b432" stroke-width="1.55" opacity="0.16"/><circle cx="155.5" cy="88.6" r="1.75" fill="#6e3802" stroke="#e8b432" stroke-width="1.55" opacity="0.12"/><circle cx="159.8" cy="88.3" r="1.75" fill="#6e3802" stroke="#e8b432" stroke-width="1.55" opacity="0.15"/><circle cx="164.0" cy="88.3" r="1.75" fill="#6e3802" stroke="#e8b432" stroke-width="1.55" opacity="0.10"/><circle cx="168.2" cy="88.5" r="1.75" fill="#6e3802" stroke="#e8b432" stroke-width="1.55" opacity="0.11"/><circle cx="172.5" cy="88.7" r="1.75" fill="#6e3802" stroke="#e8b432" stroke-width="1.55" opacity="0.16"/><circle cx="176.8" cy="88.2" r="1.75" fill="#6e3802" stroke="#e8b432" stroke-width="1.55" opacity="0.15"/><circle cx="181.0" cy="88.6" r="1.75" fill="#6e3802" stroke="#e8b432" stroke-width="1.55" opacity="0.08"/><circle cx="185.2" cy="88.5" r="1.75" fill="#6e3802" stroke="#e8b432" stroke-width="1.55" opacity="0.16"/><circle cx="189.5" cy="88.2" r="1.75" fill="#6e3802" stroke="#e8b432" stroke-width="1.55" opacity="0.13"/><circle cx="193.8" cy="88.8" r="1.75" fill="#6e3802" stroke="#e8b432" stroke-width="1.55" opacity="0.11"/><circle cx="198.0" cy="88.7" r="1.75" fill="#6e3802" stroke="#e8b432" stroke-width="1.55" opacity="0.15"/><circle cx="202.2" cy="88.3" r="1.75" fill="#6e3802" stroke="#e8b432" stroke-width="1.55" opacity="0.16"/><circle cx="206.5" cy="88.3" r="1.75" fill="#6e3802" stroke="#e8b432" stroke-width="1.55" opacity="0.09"/><circle cx="210.8" cy="88.6" r="1.75" fill="#6e3802" stroke="#e8b432" stroke-width="1.55" opacity="0.12"/><circle cx="215.0" cy="88.7" r="1.75" fill="#6e3802" stroke="#e8b432" stroke-width="1.55" opacity="0.16"/><circle cx="219.2" cy="88.7" r="1.75" fill="#6e3802" stroke="#e8b432" stroke-width="1.55" opacity="0.14"/>
<circle cx="130.0" cy="107.0" r="1.75" fill="#6e3802" stroke="#e8b432" stroke-width="1.55" opacity="0.12"/><circle cx="134.2" cy="107.2" r="1.75" fill="#6e3802" stroke="#e8b432" stroke-width="1.55" opacity="0.09"/><circle cx="138.5" cy="107.3" r="1.75" fill="#6e3802" stroke="#e8b432" stroke-width="1.55" opacity="0.10"/><circle cx="142.8" cy="106.9" r="1.75" fill="#6e3802" stroke="#e8b432" stroke-width="1.55" opacity="0.13"/><circle cx="147.0" cy="106.8" r="1.75" fill="#6e3802" stroke="#e8b432" stroke-width="1.55" opacity="0.09"/><circle cx="151.2" cy="107.1" r="1.75" fill="#6e3802" stroke="#e8b432" stroke-width="1.55" opacity="0.13"/><circle cx="155.5" cy="106.7" r="1.75" fill="#6e3802" stroke="#e8b432" stroke-width="1.55" opacity="0.09"/><circle cx="159.8" cy="107.1" r="1.75" fill="#6e3802" stroke="#e8b432" stroke-width="1.55" opacity="0.13"/><circle cx="164.0" cy="106.8" r="1.75" fill="#6e3802" stroke="#e8b432" stroke-width="1.55" opacity="0.11"/><circle cx="168.2" cy="106.7" r="1.75" fill="#6e3802" stroke="#e8b432" stroke-width="1.55" opacity="0.13"/><circle cx="172.5" cy="107.0" r="1.75" fill="#6e3802" stroke="#e8b432" stroke-width="1.55" opacity="0.11"/><circle cx="176.8" cy="107.1" r="1.75" fill="#6e3802" stroke="#e8b432" stroke-width="1.55" opacity="0.16"/><circle cx="181.0" cy="107.0" r="1.75" fill="#6e3802" stroke="#e8b432" stroke-width="1.55" opacity="0.15"/><circle cx="185.2" cy="106.8" r="1.75" fill="#6e3802" stroke="#e8b432" stroke-width="1.55" opacity="0.10"/><circle cx="189.5" cy="107.1" r="1.75" fill="#6e3802" stroke="#e8b432" stroke-width="1.55" opacity="0.16"/><circle cx="193.8" cy="106.7" r="1.75" fill="#6e3802" stroke="#e8b432" stroke-width="1.55" opacity="0.11"/><circle cx="198.0" cy="107.1" r="1.75" fill="#6e3802" stroke="#e8b432" stroke-width="1.55" opacity="0.12"/><circle cx="202.2" cy="106.8" r="1.75" fill="#6e3802" stroke="#e8b432" stroke-width="1.55" opacity="0.12"/><circle cx="206.5" cy="107.3" r="1.75" fill="#6e3802" stroke="#e8b432" stroke-width="1.55" opacity="0.14"/><circle cx="210.8" cy="106.7" r="1.75" fill="#6e3802" stroke="#e8b432" stroke-width="1.55" opacity="0.10"/><circle cx="215.0" cy="106.9" r="1.75" fill="#6e3802" stroke="#e8b432" stroke-width="1.55" opacity="0.11"/><circle cx="219.2" cy="106.8" r="1.75" fill="#6e3802" stroke="#e8b432" stroke-width="1.55" opacity="0.14"/>
<circle cx="130.0" cy="116.7" r="1.75" fill="#6e3802" stroke="#e8b432" stroke-width="1.55" opacity="0.15"/><circle cx="134.2" cy="116.3" r="1.75" fill="#6e3802" stroke="#e8b432" stroke-width="1.55" opacity="0.12"/><circle cx="138.5" cy="116.4" r="1.75" fill="#6e3802" stroke="#e8b432" stroke-width="1.55" opacity="0.16"/><circle cx="142.8" cy="116.3" r="1.75" fill="#6e3802" stroke="#e8b432" stroke-width="1.55" opacity="0.15"/><circle cx="147.0" cy="116.7" r="1.75" fill="#6e3802" stroke="#e8b432" stroke-width="1.55" opacity="0.10"/><circle cx="151.2" cy="116.8" r="1.75" fill="#6e3802" stroke="#e8b432" stroke-width="1.55" opacity="0.11"/><circle cx="155.5" cy="116.3" r="1.75" fill="#6e3802" stroke="#e8b432" stroke-width="1.55" opacity="0.12"/><circle cx="159.8" cy="116.4" r="1.75" fill="#6e3802" stroke="#e8b432" stroke-width="1.55" opacity="0.10"/><circle cx="164.0" cy="116.8" r="1.75" fill="#6e3802" stroke="#e8b432" stroke-width="1.55" opacity="0.14"/><circle cx="168.2" cy="116.4" r="1.75" fill="#6e3802" stroke="#e8b432" stroke-width="1.55" opacity="0.09"/><circle cx="172.5" cy="116.8" r="1.75" fill="#6e3802" stroke="#e8b432" stroke-width="1.55" opacity="0.10"/><circle cx="176.8" cy="116.2" r="1.75" fill="#6e3802" stroke="#e8b432" stroke-width="1.55" opacity="0.09"/><circle cx="181.0" cy="116.4" r="1.75" fill="#6e3802" stroke="#e8b432" stroke-width="1.55" opacity="0.09"/><circle cx="185.2" cy="116.8" r="1.75" fill="#6e3802" stroke="#e8b432" stroke-width="1.55" opacity="0.16"/><circle cx="189.5" cy="116.8" r="1.75" fill="#6e3802" stroke="#e8b432" stroke-width="1.55" opacity="0.14"/><circle cx="193.8" cy="116.4" r="1.75" fill="#6e3802" stroke="#e8b432" stroke-width="1.55" opacity="0.16"/><circle cx="198.0" cy="116.8" r="1.75" fill="#6e3802" stroke="#e8b432" stroke-width="1.55" opacity="0.10"/><circle cx="202.2" cy="116.2" r="1.75" fill="#6e3802" stroke="#e8b432" stroke-width="1.55" opacity="0.14"/><circle cx="206.5" cy="116.4" r="1.75" fill="#6e3802" stroke="#e8b432" stroke-width="1.55" opacity="0.14"/><circle cx="210.8" cy="116.4" r="1.75" fill="#6e3802" stroke="#e8b432" stroke-width="1.55" opacity="0.11"/><circle cx="215.0" cy="116.2" r="1.75" fill="#6e3802" stroke="#e8b432" stroke-width="1.55" opacity="0.10"/><circle cx="219.2" cy="116.4" r="1.75" fill="#6e3802" stroke="#e8b432" stroke-width="1.55" opacity="0.10"/>
<ellipse cx="24" cy="64" rx="5" ry="6" fill="url(#wb)" opacity="0.45"/>
<ellipse cx="7" cy="47" rx="2.5" ry="5" fill="url(#wb)" opacity="0.7"/>
<ellipse cx="48" cy="69.5" rx="3.5" ry="3.5" fill="url(#wb)" opacity="0.9"/>
<ellipse cx="36" cy="38" rx="2" ry="5" fill="url(#wb)" opacity="0.5"/>
<rect x="0" y="0" width="1" height="176" fill="#f0c070" opacity="0.8"/><rect x="0" y="0" width="223" height="0.6" fill="#f0d090" opacity="0.6"/>
</g>
<rect x="0" y="176" width="111" height="31.5" fill="#b4f0dc"/>
<text x="8.5" y="198.8" font-size="21" fill="#101010">15x15 μm</text>
<line x1="9.5" y1="163.5" x2="91.5" y2="163.5" stroke="#ffffff" stroke-width="1.9"/><polygon points="2,163.5 10.5,159.7 10.5,167.3" fill="#ffffff"/><polygon points="99,163.5 90.5,159.7 90.5,167.3" fill="#ffffff"/>
<line x1="129.5" y1="163.5" x2="215.5" y2="163.5" stroke="#ffffff" stroke-width="1.9"/><polygon points="122,163.5 130.5,159.7 130.5,167.3" fill="#ffffff"/><polygon points="223,163.5 214.5,159.7 214.5,167.3" fill="#ffffff"/>
<line x1="106.5" y1="163.5" x2="114.5" y2="163.5" stroke="#123088" stroke-width="2.6"/><polygon points="99,163.5 107.5,159.7 107.5,167.3" fill="#123088"/><polygon points="122,163.5 113.5,159.7 113.5,167.3" fill="#123088"/>
<line x1="118.5" y1="139" x2="110" y2="160" stroke="#3050b0" stroke-width="0.7"/>
<rect x="93.5" y="107.5" width="46.5" height="31.5" fill="#1646ea" stroke="#102a90" stroke-width="0.8"/>
<text x="117" y="131" font-size="20.5" fill="#ffffff" text-anchor="middle">IMC</text>
<text x="23" y="156" font-size="20" fill="#ffffff">Sn</text>
<text x="157.6" y="156.5" font-size="20.5" fill="#ffffff">Cu</text>
<text class="ser" x="4.5" y="24" font-size="16.5" fill="#12123c">(a)</text>
<text class="ser" x="83.6" y="14.4" font-size="11.4" fill="#ffffff">0.47μm</text>
<g stroke="#ffffff" stroke-width="1.4" fill="none" stroke-linecap="round"><line x1="82" y1="21.8" x2="95.5" y2="21.8"/><line x1="104.5" y1="21.8" x2="118.8" y2="21.8"/><line x1="96.3" y1="18.6" x2="96.3" y2="32.3"/><line x1="103.6" y1="18.6" x2="103.6" y2="32.3"/><path d="M91,18.8 L95.6,21.8 L91,24.8" stroke-width="1.1"/><path d="M109,18.8 L104.4,21.8 L109,24.8" stroke-width="1.1"/></g>
<rect x="291" y="12.7" width="215.5" height="147.3" fill="#fff" stroke="#000" stroke-width="1"/>
<line x1="291" y1="12.7" x2="291" y2="160.8" stroke="#000" stroke-width="1.8"/>
<line x1="290.1" y1="160" x2="507.0" y2="160" stroke="#000" stroke-width="1.8"/>
<line x1="506.5" y1="12.7" x2="506.5" y2="160" stroke="#000" stroke-width="1.4"/>
<line x1="287" y1="160.00" x2="291" y2="160.00" stroke="#000" stroke-width="1.2"/><text x="283.5" y="163.90" font-size="10.8" text-anchor="end" fill="#111">0</text>
<line x1="287" y1="135.45" x2="291" y2="135.45" stroke="#000" stroke-width="1.2"/><text x="283.5" y="139.35" font-size="10.8" text-anchor="end" fill="#111">1000</text>
<line x1="287" y1="110.90" x2="291" y2="110.90" stroke="#000" stroke-width="1.2"/><text x="283.5" y="114.80" font-size="10.8" text-anchor="end" fill="#111">2000</text>
<line x1="287" y1="86.35" x2="291" y2="86.35" stroke="#000" stroke-width="1.2"/><text x="283.5" y="90.25" font-size="10.8" text-anchor="end" fill="#111">3000</text>
<line x1="287" y1="61.80" x2="291" y2="61.80" stroke="#000" stroke-width="1.2"/><text x="283.5" y="65.70" font-size="10.8" text-anchor="end" fill="#111">4000</text>
<line x1="287" y1="37.25" x2="291" y2="37.25" stroke="#000" stroke-width="1.2"/><text x="283.5" y="41.15" font-size="10.8" text-anchor="end" fill="#111">5000</text>
<line x1="287" y1="12.70" x2="291" y2="12.70" stroke="#000" stroke-width="1.2"/><text x="283.5" y="16.60" font-size="10.8" text-anchor="end" fill="#111">6000</text>
<line x1="291.00" y1="160" x2="291.00" y2="164" stroke="#000" stroke-width="1.2"/><text x="291.00" y="179.6" font-size="10.8" text-anchor="middle" fill="#111">0</text>
<line x1="362.83" y1="160" x2="362.83" y2="164" stroke="#000" stroke-width="1.2"/><text x="362.83" y="179.6" font-size="10.8" text-anchor="middle" fill="#111">10</text>
<line x1="434.67" y1="160" x2="434.67" y2="164" stroke="#000" stroke-width="1.2"/><text x="434.67" y="179.6" font-size="10.8" text-anchor="middle" fill="#111">20</text>
<line x1="506.50" y1="160" x2="506.50" y2="164" stroke="#000" stroke-width="1.2"/><text x="506.50" y="179.6" font-size="10.8" text-anchor="middle" fill="#111">30</text>
<path d="M291.0,160.0 L294.6,159.8 L298.2,159.3 L301.8,158.8 L305.4,158.1 L309.0,157.3 L312.6,156.4 L316.1,155.4 L319.7,154.3 L323.3,153.2 L326.9,151.9 L330.5,150.7 L334.1,149.3 L337.7,147.9 L341.3,146.4 L344.9,144.9 L348.5,143.3 L352.1,141.7 L355.6,140.0 L359.2,138.2 L362.8,136.4 L366.4,134.6 L370.0,132.7 L373.6,130.7 L377.2,128.7 L380.8,126.7 L384.4,124.6 L388.0,122.5 L391.6,120.3 L395.2,118.1 L398.8,115.8 L402.3,113.5 L405.9,111.1 L409.5,108.8 L413.1,106.3 L416.7,103.9 L420.3,101.4 L423.9,98.8 L427.5,96.2 L431.1,93.6 L434.7,91.0 L438.3,88.3 L441.9,85.5 L445.4,82.8 L449.0,80.0 L452.6,77.1 L456.2,74.3 L459.8,71.4 L463.4,68.4 L467.0,65.4 L470.6,62.4 L474.2,59.4 L477.8,56.3 L481.4,53.2 L484.9,50.1" fill="none" stroke="#a848e8" stroke-width="1.0"/>
<path d="M291.0,160.0 L294.6,159.7 L298.2,159.0 L301.8,158.1 L305.4,157.1 L309.0,156.0 L312.6,154.6 L316.1,153.2 L319.7,151.7 L323.3,150.0 L326.9,148.3 L330.5,146.5 L334.1,144.5 L337.7,142.5 L341.3,140.4 L344.9,138.3 L348.5,136.0 L352.1,133.7 L355.6,131.3 L359.2,128.8 L362.8,126.2 L366.4,123.6 L370.0,120.9 L373.6,118.2 L377.2,115.4 L380.8,112.5 L384.4,109.6 L388.0,106.6 L391.6,103.5 L395.2,100.4 L398.8,97.2 L402.3,94.0 L405.9,90.7 L409.5,87.3 L413.1,83.9 L416.7,80.5 L420.3,77.0 L423.9,73.4 L427.5,69.8 L431.1,66.2 L434.7,62.5 L438.3,58.7 L441.9,54.9 L445.4,51.1 L449.0,47.2" fill="none" stroke="#d828d0" stroke-width="1.0"/>
<path d="M291.0,160.0 L294.6,159.2 L298.2,157.8 L301.8,156.1 L305.4,154.1 L309.0,151.9 L312.6,149.5 L316.1,146.9 L319.7,144.1 L323.3,141.2 L326.9,138.2 L330.5,135.0 L334.1,131.7 L337.7,128.3 L341.3,124.7 L344.9,121.0 L348.5,117.3 L352.1,113.4 L355.6,109.4 L359.2,105.4 L362.8,101.2 L366.4,97.0 L370.0,92.6 L373.6,88.2 L377.2,83.7 L380.8,79.1 L384.4,74.5 L388.0,69.7 L391.6,64.9 L395.2,60.0 L398.8,55.0 L402.3,50.0 L405.9,44.9 L409.5,39.7" fill="none" stroke="#a040d8" stroke-width="1.0"/>
<path d="M291.7,158.4 L292.3,158.9 L292.8,158.0 L293.3,158.6 L293.9,159.4 L294.4,156.7 L295.0,157.5 L295.5,158.8 L296.0,156.6 L296.6,157.2 L297.1,159.0 L297.6,155.4 L298.2,156.6 L298.7,155.8 L299.3,156.4 L299.8,156.6 L300.3,158.1 L300.9,154.9 L301.4,155.8 L302.0,156.0 L302.5,155.0 L303.0,155.2 L303.6,154.2 L304.1,155.3 L304.6,154.7 L305.2,157.3 L305.7,154.9 L306.3,153.2 L306.8,152.1 L307.3,154.4 L307.9,153.9 L308.4,151.3 L309.0,153.9 L309.5,152.2 L310.0,150.6 L310.6,152.9 L311.1,150.9 L311.7,153.7 L312.2,152.1 L312.7,152.4 L313.3,152.0 L313.8,150.2 L314.3,147.9 L314.9,152.7 L315.4,152.4 L316.0,150.4 L316.5,152.9 L317.0,150.1 L317.6,149.8 L318.1,151.0 L318.7,149.4 L319.2,153.0 L319.7,148.6 L320.3,152.6 L320.8,150.9 L321.3,150.5 L321.9,150.0 L322.4,147.4 L323.0,148.7 L323.5,149.4 L324.0,147.4 L324.6,145.1 L325.1,148.0 L325.7,147.1 L326.2,145.1 L326.7,146.9 L327.3,149.8 L327.8,141.9 L328.4,142.2 L328.9,150.7 L329.4,146.4 L330.0,145.2 L330.5,143.8 L331.0,144.2 L331.6,146.1 L332.1,147.6 L332.7,144.8 L333.2,142.5 L333.7,147.0 L334.3,146.7 L334.8,144.2 L335.4,148.4 L335.9,144.4 L336.4,144.6 L337.0,142.3 L337.5,144.8 L338.1,145.1 L338.6,143.7 L339.1,142.7 L339.7,144.0 L340.2,142.1 L340.7,140.1 L341.3,138.8 L341.8,137.2 L342.4,143.3 L342.9,142.2 L343.4,147.2 L344.0,135.8 L344.5,142.3 L345.1,140.3 L345.6,138.6 L346.1,143.4 L346.7,138.3 L347.2,139.4 L347.7,144.0 L348.3,138.1 L348.8,135.4 L349.4,143.6 L349.9,136.0 L350.4,137.4 L351.0,136.4 L351.5,136.3 L352.1,133.6 L352.6,137.7 L353.1,134.3 L353.7,137.7 L354.2,134.2 L354.8,138.5 L355.3,136.2 L355.8,130.5 L356.4,134.0 L356.9,135.6 L357.4,138.2 L358.0,136.9 L358.5,133.8 L359.1,131.3 L359.6,132.6 L360.1,132.1 L360.7,133.5 L361.2,129.1 L361.8,134.0 L362.3,134.2 L362.8,129.7 L363.4,131.9 L363.9,132.6 L364.4,133.2 L365.0,132.0 L365.5,129.2 L366.1,129.7 L366.6,134.1 L367.1,129.0 L367.7,129.4 L368.2,132.6 L368.8,127.1 L369.3,130.0 L369.8,129.9 L370.4,126.3 L370.9,124.4 L371.5,130.1 L372.0,126.5 L372.5,130.1 L373.1,120.4 L373.6,128.4 L374.1,123.1 L374.7,128.3 L375.2,123.7 L375.8,119.3 L376.3,133.0 L376.8,126.5 L377.4,123.5 L377.9,124.9 L378.5,126.3 L379.0,117.7 L379.5,123.5 L380.1,128.3 L380.6,120.7 L381.2,128.0 L381.7,119.2 L382.2,124.0 L382.8,121.6 L383.3,118.0 L383.8,121.0 L384.4,125.2 L384.9,125.8 L385.5,117.0 L386.0,118.0 L386.5,122.3 L387.1,117.0 L387.6,117.8 L388.2,117.0 L388.7,125.3 L389.2,119.2 L389.8,115.4 L390.3,115.5 L390.8,114.8 L391.4,124.3 L391.9,116.3 L392.5,115.0 L393.0,108.6 L393.5,118.6 L394.1,116.4 L394.6,115.1 L395.2,112.2 L395.7,115.8 L396.2,110.8 L396.8,116.2 L397.3,112.8 L397.9,114.8 L398.4,112.4 L398.9,114.6 L399.5,116.9 L400.0,108.7 L400.5,110.7 L401.1,112.9 L401.6,110.3 L402.2,107.6 L402.7,113.1 L403.2,110.2 L403.8,108.0 L404.3,107.7 L404.9,109.9 L405.4,114.7 L405.9,104.5 L406.5,106.9 L407.0,107.5 L407.5,108.0 L408.1,106.1 L408.6,107.7 L409.2,109.2 L409.7,108.0 L410.2,107.2 L410.8,106.9 L411.3,108.2 L411.9,102.5 L412.4,107.9 L412.9,101.7 L413.5,106.3 L414.0,101.9 L414.6,98.6 L415.1,101.7 L415.6,104.1 L416.2,101.4 L416.7,100.8 L417.2,105.9 L417.8,102.3 L418.3,99.6 L418.9,101.1 L419.4,99.2 L419.9,96.9 L420.5,96.4 L421.0,95.6 L421.6,96.2 L422.1,98.4 L422.6,97.2 L423.2,97.6 L423.7,97.4 L424.3,96.6 L424.8,100.8 L425.3,96.3 L425.9,95.0 L426.4,97.5 L426.9,94.3 L427.5,92.3 L428.0,93.9 L428.6,87.0 L429.1,100.4 L429.6,92.9 L430.2,97.3 L430.7,88.7 L431.3,83.4 L431.8,98.2 L432.3,90.0 L432.9,88.5 L433.4,90.5 L433.9,87.6 L434.5,95.5 L435.0,86.0 L435.6,87.1 L436.1,87.8 L436.6,89.3 L437.2,85.3 L437.7,88.3 L438.3,85.9 L438.8,87.7 L439.3,92.5 L439.9,85.6 L440.4,84.6 L441.0,82.6 L441.5,87.0 L442.0,84.2 L442.6,82.0 L443.1,83.0 L443.6,79.4 L444.2,76.9 L444.7,85.1 L445.3,87.7 L445.8,79.2 L446.3,76.8 L446.9,78.3 L447.4,78.2 L448.0,82.1 L448.5,82.0 L449.0,77.0 L449.6,81.9 L450.1,84.2 L450.6,81.5 L451.2,70.8 L451.7,72.1 L452.3,79.5 L452.8,79.2 L453.3,76.0 L453.9,78.6 L454.4,72.1 L455.0,75.9 L455.5,78.5 L456.0,71.0 L456.6,76.3 L457.1,73.5 L457.7,73.8 L458.2,74.4 L458.7,72.1 L459.3,74.7 L459.8,77.8 L460.3,78.5 L460.9,75.3 L461.4,73.5 L462.0,70.9 L462.5,70.3 L463.0,68.5 L463.6,69.4 L464.1,71.7 L464.7,71.1 L465.2,74.8 L465.7,68.7 L466.3,66.4 L466.8,65.9 L467.4,67.4 L467.9,67.2 L468.4,63.6 L469.0,65.9 L469.5,63.4 L470.0,63.4 L470.6,64.1 L471.1,60.5 L471.7,65.7 L472.2,64.7 L472.7,65.6 L473.3,65.2 L473.8,57.9 L474.4,56.9 L474.9,61.6 L475.4,59.6 L476.0,57.4 L476.5,58.1 L477.0,56.5 L477.6,63.4 L478.1,61.2 L478.7,57.6 L479.2,54.3 L479.7,57.8 L480.3,60.2 L480.8,58.4" fill="none" stroke="#3434d8" stroke-width="0.85" stroke-dasharray="2.2 0.7" stroke-linejoin="round"/>
<path d="M292.1,156.5 L292.6,156.5 L293.1,153.7 L293.6,155.8 L294.1,154.8 L294.6,152.1 L295.1,152.9 L295.6,153.6 L296.1,154.5 L296.6,153.6 L297.1,152.4 L297.6,153.9 L298.1,153.3 L298.6,155.0 L299.1,154.7 L299.6,155.9 L300.1,155.3 L300.6,154.4 L301.1,158.3 L301.6,156.7 L302.1,156.1 L302.6,157.0 L303.1,156.4 L303.6,154.5 L304.1,152.4 L304.6,154.1 L305.2,154.3 L305.7,156.9 L306.2,151.2 L306.7,153.8 L307.2,153.7 L307.7,155.1 L308.2,153.1 L308.7,154.5 L309.2,152.3 L309.7,151.3 L310.2,151.7 L310.7,151.0 L311.2,152.6 L311.7,148.3 L312.2,151.6 L312.7,153.4 L313.2,150.3 L313.7,151.1 L314.2,151.3 L314.7,149.9 L315.2,148.5 L315.7,151.0 L316.2,148.8 L316.7,145.6 L317.2,146.8 L317.7,148.1 L318.2,147.4 L318.7,147.6 L319.2,147.2 L319.7,145.4 L320.2,146.8 L320.7,151.3 L321.2,146.1 L321.7,147.7 L322.2,144.2 L322.8,146.6 L323.3,144.7 L323.8,140.1 L324.3,146.8 L324.8,146.7 L325.3,147.1 L325.8,149.1 L326.3,147.7 L326.8,142.3 L327.3,144.3 L327.8,146.9 L328.3,145.8 L328.8,140.6 L329.3,143.6 L329.8,142.3 L330.3,140.4 L330.8,137.6 L331.3,135.8 L331.8,137.7 L332.3,139.6 L332.8,139.2 L333.3,134.8 L333.8,135.5 L334.3,139.6 L334.8,137.4 L335.3,137.6 L335.8,138.0 L336.3,139.2 L336.8,141.1 L337.3,138.8 L337.8,141.3 L338.3,133.6 L338.8,135.2 L339.3,139.7 L339.8,132.3 L340.3,133.4 L340.9,140.9 L341.4,130.2 L341.9,132.8 L342.4,129.0 L342.9,138.1 L343.4,132.8 L343.9,132.8 L344.4,133.2 L344.9,133.0 L345.4,130.2 L345.9,137.4 L346.4,136.4 L346.9,136.6 L347.4,133.9 L347.9,133.7 L348.4,130.5 L348.9,130.5 L349.4,131.0 L349.9,132.9 L350.4,131.9 L350.9,127.2 L351.4,127.5 L351.9,129.3 L352.4,130.4 L352.9,124.1 L353.4,130.7 L353.9,126.4 L354.4,124.4 L354.9,128.8 L355.4,124.9 L355.9,131.0 L356.4,123.6 L356.9,126.0 L357.4,131.6 L357.9,123.9 L358.5,128.7 L359.0,121.2 L359.5,127.4 L360.0,125.4 L360.5,123.6 L361.0,125.3 L361.5,123.0 L362.0,125.4 L362.5,121.0 L363.0,122.9 L363.5,121.9 L364.0,131.3 L364.5,118.0 L365.0,121.4 L365.5,127.0 L366.0,120.4 L366.5,118.8 L367.0,116.4 L367.5,123.2 L368.0,114.1 L368.5,119.4 L369.0,110.6 L369.5,118.6 L370.0,115.5 L370.5,118.6 L371.0,120.7 L371.5,113.0 L372.0,113.2 L372.5,110.7 L373.0,112.6 L373.5,116.9 L374.0,120.2 L374.5,116.4 L375.0,116.1 L375.5,116.2 L376.1,111.2 L376.6,111.6 L377.1,113.2 L377.6,111.3 L378.1,112.0 L378.6,110.4 L379.1,108.2 L379.6,107.1 L380.1,112.2 L380.6,114.5 L381.1,104.3 L381.6,108.3 L382.1,104.6 L382.6,113.3 L383.1,108.5 L383.6,106.9 L384.1,111.4 L384.6,107.9 L385.1,103.4 L385.6,101.8 L386.1,99.6 L386.6,107.4 L387.1,108.7 L387.6,101.9 L388.1,100.1 L388.6,102.2 L389.1,106.7 L389.6,99.4 L390.1,98.9 L390.6,99.3 L391.1,102.3 L391.6,99.2 L392.1,97.2 L392.6,101.2 L393.1,105.0 L393.6,97.4 L394.2,96.5 L394.7,97.6 L395.2,94.2 L395.7,98.7 L396.2,96.6 L396.7,96.9 L397.2,93.5 L397.7,89.7 L398.2,95.4 L398.7,87.3 L399.2,88.6 L399.7,90.6 L400.2,90.9 L400.7,86.5 L401.2,92.6 L401.7,91.9 L402.2,94.6 L402.7,89.1 L403.2,85.8 L403.7,88.1 L404.2,88.0 L404.7,89.6 L405.2,88.0 L405.7,92.8 L406.2,84.2 L406.7,88.6 L407.2,90.5 L407.7,88.8 L408.2,88.7 L408.7,82.6 L409.2,81.5 L409.7,89.1 L410.2,81.1 L410.7,80.8 L411.2,85.2 L411.8,87.7 L412.3,84.8 L412.8,84.0 L413.3,80.3 L413.8,82.2 L414.3,87.3 L414.8,79.3 L415.3,84.7 L415.8,76.2 L416.3,82.8 L416.8,80.6 L417.3,80.7 L417.8,79.2 L418.3,72.6 L418.8,73.6 L419.3,74.0 L419.8,74.5 L420.3,80.2 L420.8,76.3 L421.3,76.0 L421.8,76.9 L422.3,71.5 L422.8,75.2 L423.3,74.6 L423.8,75.3 L424.3,78.2 L424.8,69.1 L425.3,66.3 L425.8,69.8 L426.3,73.2 L426.8,78.6 L427.3,68.7 L427.8,64.9 L428.3,67.5 L428.8,65.1 L429.4,62.9 L429.9,63.7 L430.4,68.5 L430.9,63.2 L431.4,63.7 L431.9,71.0 L432.4,66.9 L432.9,69.9 L433.4,65.2 L433.9,62.5 L434.4,67.6 L434.9,70.5 L435.4,59.0 L435.9,61.7 L436.4,57.6 L436.9,66.5 L437.4,58.2 L437.9,54.5 L438.4,54.3 L438.9,61.3 L439.4,59.3 L439.9,60.3 L440.4,56.1 L440.9,55.6 L441.4,58.4 L441.9,62.8 L442.4,55.4 L442.9,59.0 L443.4,55.0 L443.9,55.8 L444.4,50.9 L444.9,52.1 L445.4,57.0 L445.9,53.9 L446.4,48.8 L447.0,56.1 L447.5,52.4 L448.0,49.5 L448.5,48.9 L449.0,51.0" fill="none" stroke="#f01020" stroke-width="1.1" stroke-dasharray="2.6 1.0" stroke-linejoin="round"/>
<path d="M294.6,159.4 L295.0,159.2 L295.5,157.7 L295.9,157.4 L296.3,155.1 L296.7,158.3 L297.2,156.1 L297.6,156.3 L298.0,158.6 L298.5,157.5 L298.9,156.3 L299.3,156.8 L299.8,156.3 L300.2,155.4 L300.6,156.6 L301.1,155.0 L301.5,156.0 L301.9,155.7 L302.3,154.2 L302.8,155.2 L303.2,154.0 L303.6,152.2 L304.1,153.8 L304.5,153.8 L304.9,152.5 L305.4,153.6 L305.8,151.6 L306.2,154.4 L306.7,151.8 L307.1,153.0 L307.5,153.2 L308.0,149.6 L308.4,152.9 L308.8,149.2 L309.2,150.4 L309.7,149.1 L310.1,152.2 L310.5,149.0 L311.0,148.4 L311.4,150.4 L311.8,150.2 L312.3,146.2 L312.7,149.3 L313.1,149.9 L313.6,150.0 L314.0,148.1 L314.4,148.1 L314.8,148.0 L315.3,145.4 L315.7,148.3 L316.1,146.8 L316.6,145.0 L317.0,148.6 L317.4,145.1 L317.9,143.6 L318.3,148.4 L318.7,147.7 L319.2,147.4 L319.6,148.5 L320.0,144.4 L320.5,148.0 L320.9,143.7 L321.3,141.8 L321.7,146.8 L322.2,144.3 L322.6,146.8 L323.0,141.8 L323.5,144.2 L323.9,143.1 L324.3,142.3 L324.8,141.1 L325.2,142.5 L325.6,141.6 L326.1,142.4 L326.5,140.9 L326.9,143.0 L327.3,140.5 L327.8,144.0 L328.2,141.0 L328.6,136.1 L329.1,139.3 L329.5,141.7 L329.9,138.5 L330.4,140.6 L330.8,141.7 L331.2,139.6 L331.7,136.4 L332.1,136.8 L332.5,137.5 L333.0,138.9 L333.4,138.9 L333.8,133.6 L334.2,135.6 L334.7,137.8 L335.1,139.9 L335.5,138.1 L336.0,129.7 L336.4,137.1 L336.8,134.5 L337.3,133.6 L337.7,134.0 L338.1,134.0 L338.6,136.1 L339.0,135.1 L339.4,128.7 L339.8,133.8 L340.3,129.9 L340.7,135.3 L341.1,131.8 L341.6,129.6 L342.0,126.6 L342.4,130.3 L342.9,125.0 L343.3,124.2 L343.7,125.5 L344.2,121.4 L344.6,123.5 L345.0,122.8 L345.4,120.5 L345.9,126.6 L346.3,119.9 L346.7,121.7 L347.2,122.4 L347.6,119.4 L348.0,116.0 L348.5,118.5 L348.9,113.9 L349.3,119.5 L349.8,119.5 L350.2,111.8 L350.6,114.3 L351.1,112.4 L351.5,116.5 L351.9,111.9 L352.3,112.8 L352.8,111.4 L353.2,112.5 L353.6,109.0 L354.1,113.4 L354.5,113.8 L354.9,114.8 L355.4,107.2 L355.8,111.9 L356.2,112.2 L356.7,111.5 L357.1,109.7 L357.5,111.5 L357.9,108.4 L358.4,108.8 L358.8,108.1 L359.2,108.8 L359.7,105.6 L360.1,106.5 L360.5,104.4 L361.0,103.6 L361.4,102.9 L361.8,109.2 L362.3,104.3 L362.7,104.5 L363.1,99.8 L363.6,105.6 L364.0,102.8 L364.4,101.1 L364.8,100.7 L365.3,96.6 L365.7,99.9 L366.1,95.6 L366.6,101.7 L367.0,102.1 L367.4,93.4 L367.9,94.9 L368.3,94.3 L368.7,94.7 L369.2,93.2 L369.6,97.3 L370.0,90.9 L370.4,94.4 L370.9,89.7 L371.3,91.6 L371.7,96.6 L372.2,94.3 L372.6,87.2 L373.0,90.1 L373.5,90.2 L373.9,88.0 L374.3,89.2 L374.8,89.0 L375.2,86.7 L375.6,86.0 L376.1,81.8 L376.5,85.2 L376.9,79.7 L377.3,79.3 L377.8,79.0 L378.2,80.2 L378.6,82.2 L379.1,81.6 L379.5,81.8 L379.9,82.8 L380.4,80.5 L380.8,81.5 L381.2,74.7 L381.7,77.2 L382.1,79.2 L382.5,82.6 L382.9,77.0 L383.4,77.4 L383.8,78.7 L384.2,78.2 L384.7,80.7 L385.1,72.5 L385.5,73.6 L386.0,65.9 L386.4,72.4 L386.8,72.1 L387.3,67.2 L387.7,70.2 L388.1,69.5 L388.5,70.4 L389.0,70.4 L389.4,64.2 L389.8,64.9 L390.3,62.4 L390.7,67.4 L391.1,65.8 L391.6,67.7 L392.0,62.1 L392.4,67.8 L392.9,62.0 L393.3,59.9 L393.7,58.5 L394.2,64.2 L394.6,58.2 L395.0,62.4 L395.4,61.9 L395.9,62.9 L396.3,55.6 L396.7,53.6 L397.2,59.1 L397.6,58.9 L398.0,57.2 L398.5,48.9 L398.9,52.3 L399.3,55.9 L399.8,58.7 L400.2,55.0 L400.6,49.4 L401.0,47.0 L401.5,52.1 L401.9,52.6 L402.3,51.5 L402.8,54.6 L403.2,46.5 L403.6,51.2 L404.1,44.8 L404.5,51.7 L404.9,49.8 L405.4,45.0 L405.8,47.2 L406.2,42.4 L406.7,43.9 L407.1,46.5 L407.5,41.0 L407.9,39.8 L408.4,46.6 L408.8,39.2" fill="none" stroke="#0c0c0c" stroke-width="1.05" stroke-linejoin="round"/>
<rect x="303.5" y="24.2" width="48.8" height="41.2" fill="#fff" stroke="#111" stroke-width="1.9" rx="0.8"/>
<line x1="306.3" y1="31.5" x2="316.5" y2="31.5" stroke="#5050e0" stroke-width="0.8" stroke-dasharray="3 0.8"/><line x1="306.3" y1="45.4" x2="316.5" y2="45.4" stroke="#f02030" stroke-width="1.1" stroke-dasharray="3.5 1.8"/><line x1="306" y1="59.2" x2="316.8" y2="59.2" stroke="#333" stroke-width="1.6"/>
<text x="318.8" y="35.4" font-size="10.9" fill="#111">Solder</text><text x="318.8" y="49.2" font-size="10.9" fill="#111">Cu</text><text x="318.8" y="63" font-size="10.9" fill="#111">IMC</text>
<text x="399.8" y="34" font-size="10.9" fill="#111">IMC</text><text x="442.3" y="40" font-size="10.9" fill="#111">Cu</text><text x="469.2" y="43" font-size="10.9" fill="#111">Solder</text>
<text class="ser" x="228.5" y="23.3" font-size="16" fill="#111">(b)</text>
<text x="399.4" y="198.8" font-size="12.4" font-weight="bold" text-anchor="middle" fill="#111">Distance, <tspan font-style="italic">h</tspan> (nm)</text>
<text transform="translate(245.8,85.6) rotate(-90)" font-size="12.3" font-weight="bold" text-anchor="middle" fill="#111">Force, <tspan font-style="italic">F</tspan> (nN)</text>
<line x1="73.1" y1="231.7" x2="512.2" y2="231.7" stroke="#111" stroke-width="1.3"/>
<line x1="73.1" y1="231.1" x2="73.1" y2="498.6" stroke="#000" stroke-width="1.7"/>
<line x1="512.2" y1="231.1" x2="512.2" y2="498.6" stroke="#111" stroke-width="1.5"/>
<line x1="72.3" y1="497.8" x2="512.9000000000001" y2="497.8" stroke="#000" stroke-width="1.6"/>
<line x1="68.1" y1="497.80" x2="73.1" y2="497.80" stroke="#000" stroke-width="1.3"/><text x="61.2" y="502.60" font-size="13.4" text-anchor="end" fill="#111">0</text>
<line x1="68.1" y1="468.23" x2="73.1" y2="468.23" stroke="#000" stroke-width="1.3"/><text x="61.2" y="473.03" font-size="13.4" text-anchor="end" fill="#111">20</text>
<line x1="68.1" y1="438.67" x2="73.1" y2="438.67" stroke="#000" stroke-width="1.3"/><text x="61.2" y="443.47" font-size="13.4" text-anchor="end" fill="#111">40</text>
<line x1="68.1" y1="409.10" x2="73.1" y2="409.10" stroke="#000" stroke-width="1.3"/><text x="61.2" y="413.90" font-size="13.4" text-anchor="end" fill="#111">60</text>
<line x1="68.1" y1="379.53" x2="73.1" y2="379.53" stroke="#000" stroke-width="1.3"/><text x="61.2" y="384.33" font-size="13.4" text-anchor="end" fill="#111">80</text>
<line x1="68.1" y1="349.97" x2="73.1" y2="349.97" stroke="#000" stroke-width="1.3"/><text x="61.2" y="354.77" font-size="13.4" text-anchor="end" fill="#111">100</text>
<line x1="68.1" y1="320.40" x2="73.1" y2="320.40" stroke="#000" stroke-width="1.3"/><text x="61.2" y="325.20" font-size="13.4" text-anchor="end" fill="#111">120</text>
<line x1="68.1" y1="290.83" x2="73.1" y2="290.83" stroke="#000" stroke-width="1.3"/><text x="61.2" y="295.63" font-size="13.4" text-anchor="end" fill="#111">140</text>
<line x1="68.1" y1="261.27" x2="73.1" y2="261.27" stroke="#000" stroke-width="1.3"/><text x="61.2" y="266.07" font-size="13.4" text-anchor="end" fill="#111">160</text>
<line x1="68.1" y1="231.70" x2="73.1" y2="231.70" stroke="#000" stroke-width="1.3"/><text x="61.2" y="236.50" font-size="13.4" text-anchor="end" fill="#111">180</text>
<line x1="73.10" y1="497.8" x2="73.10" y2="502.8" stroke="#000" stroke-width="1.3"/><text x="73.10" y="523.9" font-size="13.6" text-anchor="middle" fill="#111">0</text>
<line x1="102.37" y1="497.8" x2="102.37" y2="502.8" stroke="#000" stroke-width="1.3"/><text x="102.37" y="523.9" font-size="13.6" text-anchor="middle" fill="#111">1</text>
<line x1="131.65" y1="497.8" x2="131.65" y2="502.8" stroke="#000" stroke-width="1.3"/><text x="131.65" y="523.9" font-size="13.6" text-anchor="middle" fill="#111">2</text>
<line x1="160.92" y1="497.8" x2="160.92" y2="502.8" stroke="#000" stroke-width="1.3"/><text x="160.92" y="523.9" font-size="13.6" text-anchor="middle" fill="#111">3</text>
<line x1="190.19" y1="497.8" x2="190.19" y2="502.8" stroke="#000" stroke-width="1.3"/><text x="190.19" y="523.9" font-size="13.6" text-anchor="middle" fill="#111">4</text>
<line x1="219.47" y1="497.8" x2="219.47" y2="502.8" stroke="#000" stroke-width="1.3"/><text x="219.47" y="523.9" font-size="13.6" text-anchor="middle" fill="#111">5</text>
<line x1="248.74" y1="497.8" x2="248.74" y2="502.8" stroke="#000" stroke-width="1.3"/><text x="248.74" y="523.9" font-size="13.6" text-anchor="middle" fill="#111">6</text>
<line x1="278.01" y1="497.8" x2="278.01" y2="502.8" stroke="#000" stroke-width="1.3"/><text x="278.01" y="523.9" font-size="13.6" text-anchor="middle" fill="#111">7</text>
<line x1="307.29" y1="497.8" x2="307.29" y2="502.8" stroke="#000" stroke-width="1.3"/><text x="307.29" y="523.9" font-size="13.6" text-anchor="middle" fill="#111">8</text>
<line x1="336.56" y1="497.8" x2="336.56" y2="502.8" stroke="#000" stroke-width="1.3"/><text x="336.56" y="523.9" font-size="13.6" text-anchor="middle" fill="#111">9</text>
<line x1="365.83" y1="497.8" x2="365.83" y2="502.8" stroke="#000" stroke-width="1.3"/><text x="365.83" y="523.9" font-size="13.6" text-anchor="middle" fill="#111">10</text>
<line x1="395.11" y1="497.8" x2="395.11" y2="502.8" stroke="#000" stroke-width="1.3"/><text x="395.11" y="523.9" font-size="13.6" text-anchor="middle" fill="#111">11</text>
<line x1="424.38" y1="497.8" x2="424.38" y2="502.8" stroke="#000" stroke-width="1.3"/><text x="424.38" y="523.9" font-size="13.6" text-anchor="middle" fill="#111">12</text>
<line x1="453.65" y1="497.8" x2="453.65" y2="502.8" stroke="#000" stroke-width="1.3"/><text x="453.65" y="523.9" font-size="13.6" text-anchor="middle" fill="#111">13</text>
<line x1="482.93" y1="497.8" x2="482.93" y2="502.8" stroke="#000" stroke-width="1.3"/><text x="482.93" y="523.9" font-size="13.6" text-anchor="middle" fill="#111">14</text>
<line x1="512.20" y1="497.8" x2="512.20" y2="502.8" stroke="#000" stroke-width="1.3"/><text x="512.20" y="523.9" font-size="13.6" text-anchor="middle" fill="#111">15</text>
<rect x="298.5" y="431" width="13.2" height="66" fill="url(#hatch)"/><rect x="356.8" y="431" width="13.2" height="66" fill="url(#hatch)"/>
<line x1="298.2" y1="429.5" x2="298.2" y2="497" stroke="#0a0a0a" stroke-width="1.9" stroke-dasharray="5 2.6"/><line x1="370.2" y1="429.5" x2="370.2" y2="497" stroke="#0a0a0a" stroke-width="1.9" stroke-dasharray="5 2.6"/>
<g stroke="#0a0a0a" stroke-width="1.5" fill="none"><path d="M299.5,460 H313.5 M304,456.3 L299.6,460 L304,463.7"/><path d="M355.5,460 H369.3 M365,456.3 L369.4,460 L365,463.7"/></g>
<text x="332" y="467.6" font-size="14.6" text-anchor="middle" fill="#111">IMC</text>
<text x="146" y="464.2" font-size="15.2" fill="#111">Solder (Sn)</text>
<text x="419" y="460.6" font-size="15.2" fill="#111">Cu</text>
<text class="ser" x="3.5" y="238" font-size="16.5" fill="#111">(c)</text>
<text x="290" y="547.2" font-size="15.2" font-weight="bold" text-anchor="middle" fill="#111">Distance (<tspan font-weight="normal">μ</tspan>m)</text>
<text transform="translate(25.6,370.5) rotate(-90)" font-size="16.2" font-weight="bold" text-anchor="middle" fill="#111"><tspan font-style="italic">E</tspan><tspan font-style="italic" font-size="11.5" dy="3">r</tspan><tspan dy="-3"> (GPa)</tspan></text>
<path d="M271.3,407.0 L285.4,363.7 L299.6,319.5" fill="none" stroke="#1c1c1c" stroke-width="1"/>
<path d="M73.2,416.0 L87.4,413.0 L101.5,411.0 L115.7,416.0 L129.8,413.0 L143.9,410.0 L158.1,418.0 L172.2,414.0 L186.4,412.0 L200.6,413.0 L214.7,410.0 L228.9,417.0 L243.0,418.0 L257.2,406.0 L271.3,407.0 L285.4,363.7 L299.6,319.0 L313.8,285.4 L327.9,272.9 L342.1,293.0 L356.2,316.0 L370.4,355.0 L384.5,387.0 L398.6,378.0 L412.8,380.0 L426.9,379.0 L441.1,381.0 L455.2,378.0 L469.4,371.0 L483.6,377.0 L492.0,384.0 L497.7,375.5" fill="none" stroke="#1c1c1c" stroke-width="1" stroke-dasharray="6 2"/>
<path d="M73.2,418.0 L87.4,417.0 L101.5,418.0 L115.7,416.0 L129.8,414.0 L143.9,417.0 L158.1,420.0 L172.2,417.0 L186.4,412.0 L200.6,414.0 L214.7,416.0 L228.9,419.0 L243.0,419.0 L257.2,411.0 L271.3,412.0 L285.4,409.0 L299.6,365.0 L313.8,290.2 L327.9,277.7 L342.1,292.0 L356.2,319.0 L370.4,357.0 L384.5,391.0 L398.6,382.0 L412.8,383.0 L426.9,382.0 L441.1,383.0 L455.2,379.0 L469.4,374.0 L483.6,380.0 L497.7,382.0" fill="none" stroke="#1c1c1c" stroke-width="1" stroke-dasharray="6 2"/>
<path d="M73.2,420.0 L87.4,421.0 L101.5,420.0 L115.7,417.0 L129.8,415.0 L143.9,420.0 L158.1,422.0 L172.2,419.0 L186.4,413.0 L200.6,418.0 L214.7,426.0 L228.9,421.0 L243.0,420.0 L257.2,417.0 L271.3,408.0 L285.4,365.0 L299.6,322.0 L313.8,306.5 L327.9,294.0 L342.1,291.2 L356.2,312.3 L370.4,350.0 L384.5,393.0 L398.6,388.0 L412.8,390.0 L426.9,390.0 L441.1,384.0 L455.2,380.0 L469.4,377.0 L483.6,389.0 L497.7,382.0" fill="none" stroke="#1c1c1c" stroke-width="1" stroke-dasharray="6 2"/>
<path d="M73.2,422.0 L87.4,423.0 L101.5,427.0 L115.7,420.0 L129.8,416.0 L143.9,422.0 L158.1,424.0 L172.2,425.0 L186.4,420.0 L200.6,435.5 L214.7,425.0 L228.9,414.0 L243.0,421.0 L257.2,419.0 L271.3,416.0 L285.4,410.0 L299.6,370.0 L313.8,325.8 L327.9,297.9 L342.1,306.5 L356.2,328.7 L370.4,360.0 L384.5,394.0 L398.6,385.0 L412.8,388.0 L426.9,398.0 L441.1,402.0 L455.2,381.0 L469.4,376.0 L483.6,392.0 L497.7,383.0" fill="none" stroke="#1c1c1c" stroke-width="1" stroke-dasharray="6 2"/>
<path d="M73.2,424.0 L87.4,428.0 L101.5,432.5 L115.7,424.0 L129.8,415.0 L143.9,408.5 L158.1,418.0 L172.2,423.0 L186.4,433.0 L200.6,426.0 L214.7,431.0 L228.9,431.0 L243.0,428.0 L257.2,426.0 L271.3,418.0 L285.4,404.0" fill="none" stroke="#1c1c1c" stroke-width="1" stroke-dasharray="6 2"/>
<rect x="70.5" y="409" width="6" height="16.5" fill="#08080f"/>
<circle cx="73.4" cy="411" r="1.3" fill="#1818d0"/><circle cx="73.4" cy="414.5" r="1.1" fill="#1414a0"/><circle cx="87.4" cy="413.0" r="1.7" fill="#1010e8" stroke="#0a0a34" stroke-width="1.3"/><circle cx="87.4" cy="423.2" r="1.7" fill="#1010e8" stroke="#0a0a34" stroke-width="1.3"/><circle cx="101.5" cy="417.5" r="1.7" fill="#1010e8" stroke="#0a0a34" stroke-width="1.3"/><circle cx="101.5" cy="422.0" r="1.7" fill="#1010e8" stroke="#0a0a34" stroke-width="1.3"/><circle cx="101.5" cy="428.2" r="1.7" fill="#1010e8" stroke="#0a0a34" stroke-width="1.3"/><circle cx="101.5" cy="432.5" r="1.7" fill="#1010e8" stroke="#0a0a34" stroke-width="1.3"/><circle cx="115.7" cy="403.8" r="1.7" fill="#1010e8" stroke="#0a0a34" stroke-width="1.3"/><circle cx="115.7" cy="406.8" r="1.7" fill="#1010e8" stroke="#0a0a34" stroke-width="1.3"/><circle cx="115.7" cy="416.2" r="1.7" fill="#1010e8" stroke="#0a0a34" stroke-width="1.3"/><circle cx="115.7" cy="419.5" r="1.7" fill="#1010e8" stroke="#0a0a34" stroke-width="1.3"/><circle cx="115.7" cy="433.8" r="1.7" fill="#1010e8" stroke="#0a0a34" stroke-width="1.3"/><circle cx="129.8" cy="411.2" r="1.7" fill="#1010e8" stroke="#0a0a34" stroke-width="1.3"/><circle cx="129.8" cy="413.0" r="1.7" fill="#1010e8" stroke="#0a0a34" stroke-width="1.3"/><circle cx="129.8" cy="424.2" r="1.7" fill="#1010e8" stroke="#0a0a34" stroke-width="1.3"/><circle cx="129.8" cy="428.2" r="1.7" fill="#1010e8" stroke="#0a0a34" stroke-width="1.3"/><circle cx="143.9" cy="404.2" r="1.7" fill="#1010e8" stroke="#0a0a34" stroke-width="1.3"/><circle cx="143.9" cy="410.5" r="1.7" fill="#1010e8" stroke="#0a0a34" stroke-width="1.3"/><circle cx="143.9" cy="415.8" r="1.7" fill="#1010e8" stroke="#0a0a34" stroke-width="1.3"/><circle cx="158.1" cy="403.8" r="1.7" fill="#1010e8" stroke="#0a0a34" stroke-width="1.3"/><circle cx="158.1" cy="425.0" r="1.7" fill="#1010e8" stroke="#0a0a34" stroke-width="1.3"/><circle cx="158.1" cy="427.5" r="1.7" fill="#1010e8" stroke="#0a0a34" stroke-width="1.3"/><circle cx="158.1" cy="430.0" r="1.7" fill="#1010e8" stroke="#0a0a34" stroke-width="1.3"/><circle cx="172.2" cy="413.0" r="1.7" fill="#1010e8" stroke="#0a0a34" stroke-width="1.3"/><circle cx="172.2" cy="415.0" r="1.7" fill="#1010e8" stroke="#0a0a34" stroke-width="1.3"/><circle cx="172.2" cy="418.2" r="1.7" fill="#1010e8" stroke="#0a0a34" stroke-width="1.3"/><circle cx="172.2" cy="429.5" r="1.7" fill="#1010e8" stroke="#0a0a34" stroke-width="1.3"/><circle cx="186.4" cy="406.2" r="1.7" fill="#1010e8" stroke="#0a0a34" stroke-width="1.3"/><circle cx="186.4" cy="412.0" r="1.7" fill="#1010e8" stroke="#0a0a34" stroke-width="1.3"/><circle cx="186.4" cy="420.0" r="1.7" fill="#1010e8" stroke="#0a0a34" stroke-width="1.3"/><circle cx="186.4" cy="421.2" r="1.7" fill="#1010e8" stroke="#0a0a34" stroke-width="1.3"/><circle cx="200.6" cy="412.0" r="1.7" fill="#1010e8" stroke="#0a0a34" stroke-width="1.3"/><circle cx="200.6" cy="415.8" r="1.7" fill="#1010e8" stroke="#0a0a34" stroke-width="1.3"/><circle cx="200.6" cy="435.5" r="1.7" fill="#1010e8" stroke="#0a0a34" stroke-width="1.3"/><circle cx="214.7" cy="408.2" r="1.7" fill="#1010e8" stroke="#0a0a34" stroke-width="1.3"/><circle cx="214.7" cy="416.2" r="1.7" fill="#1010e8" stroke="#0a0a34" stroke-width="1.3"/><circle cx="214.7" cy="425.0" r="1.7" fill="#1010e8" stroke="#0a0a34" stroke-width="1.3"/><circle cx="214.7" cy="440.0" r="1.7" fill="#1010e8" stroke="#0a0a34" stroke-width="1.3"/><circle cx="228.9" cy="407.0" r="1.7" fill="#1010e8" stroke="#0a0a34" stroke-width="1.3"/><circle cx="228.9" cy="413.0" r="1.7" fill="#1010e8" stroke="#0a0a34" stroke-width="1.3"/><circle cx="228.9" cy="418.8" r="1.7" fill="#1010e8" stroke="#0a0a34" stroke-width="1.3"/><circle cx="228.9" cy="438.8" r="1.7" fill="#1010e8" stroke="#0a0a34" stroke-width="1.3"/><circle cx="243.0" cy="417.5" r="1.7" fill="#1010e8" stroke="#0a0a34" stroke-width="1.3"/><circle cx="243.0" cy="420.0" r="1.7" fill="#1010e8" stroke="#0a0a34" stroke-width="1.3"/><circle cx="243.0" cy="422.5" r="1.7" fill="#1010e8" stroke="#0a0a34" stroke-width="1.3"/><circle cx="257.2" cy="402.0" r="1.7" fill="#1010e8" stroke="#0a0a34" stroke-width="1.3"/><circle cx="257.2" cy="410.0" r="1.7" fill="#1010e8" stroke="#0a0a34" stroke-width="1.3"/><circle cx="257.2" cy="417.5" r="1.7" fill="#1010e8" stroke="#0a0a34" stroke-width="1.3"/><circle cx="257.2" cy="426.2" r="1.7" fill="#1010e8" stroke="#0a0a34" stroke-width="1.3"/><circle cx="271.3" cy="415.8" r="1.7" fill="#1010e8" stroke="#0a0a34" stroke-width="1.3"/><circle cx="271.3" cy="421.2" r="1.7" fill="#1010e8" stroke="#0a0a34" stroke-width="1.3"/><circle cx="285.4" cy="397.0" r="1.7" fill="#1010e8" stroke="#0a0a34" stroke-width="1.3"/><circle cx="285.4" cy="403.0" r="1.7" fill="#1010e8" stroke="#0a0a34" stroke-width="1.3"/><circle cx="285.4" cy="408.8" r="1.7" fill="#1010e8" stroke="#0a0a34" stroke-width="1.3"/><circle cx="285.4" cy="417.5" r="1.7" fill="#1010e8" stroke="#0a0a34" stroke-width="1.3"/><circle cx="299.6" cy="320.2" r="1.7" fill="#1010e8" stroke="#0a0a34" stroke-width="1.3"/><circle cx="299.6" cy="326.2" r="1.7" fill="#1010e8" stroke="#0a0a34" stroke-width="1.3"/><circle cx="299.6" cy="402.0" r="1.7" fill="#1010e8" stroke="#0a0a34" stroke-width="1.3"/><circle cx="299.6" cy="423.8" r="1.7" fill="#1010e8" stroke="#0a0a34" stroke-width="1.3"/><circle cx="313.8" cy="306.8" r="1.7" fill="#1010e8" stroke="#0a0a34" stroke-width="1.3"/><circle cx="313.8" cy="318.1" r="1.7" fill="#1010e8" stroke="#0a0a34" stroke-width="1.3"/><circle cx="313.8" cy="326.2" r="1.7" fill="#1010e8" stroke="#0a0a34" stroke-width="1.3"/><circle cx="313.8" cy="331.5" r="1.7" fill="#1010e8" stroke="#0a0a34" stroke-width="1.3"/><circle cx="327.9" cy="254.0" r="1.7" fill="#1010e8" stroke="#0a0a34" stroke-width="1.3"/><circle cx="327.9" cy="264.2" r="1.7" fill="#1010e8" stroke="#0a0a34" stroke-width="1.3"/><circle cx="327.9" cy="296.5" r="1.7" fill="#1010e8" stroke="#0a0a34" stroke-width="1.3"/><circle cx="327.9" cy="310.5" r="1.7" fill="#1010e8" stroke="#0a0a34" stroke-width="1.3"/><circle cx="342.1" cy="285.0" r="1.7" fill="#1010e8" stroke="#0a0a34" stroke-width="1.3"/><circle cx="342.1" cy="291.2" r="1.7" fill="#1010e8" stroke="#0a0a34" stroke-width="1.3"/><circle cx="356.2" cy="291.7" r="1.7" fill="#1010e8" stroke="#0a0a34" stroke-width="1.3"/><circle cx="356.2" cy="293.5" r="1.7" fill="#1010e8" stroke="#0a0a34" stroke-width="1.3"/><circle cx="356.2" cy="302.7" r="1.7" fill="#1010e8" stroke="#0a0a34" stroke-width="1.3"/><circle cx="356.2" cy="328.0" r="1.7" fill="#1010e8" stroke="#0a0a34" stroke-width="1.3"/><circle cx="370.4" cy="321.6" r="1.7" fill="#1010e8" stroke="#0a0a34" stroke-width="1.3"/><circle cx="370.4" cy="326.7" r="1.7" fill="#1010e8" stroke="#0a0a34" stroke-width="1.3"/><circle cx="370.4" cy="332.9" r="1.7" fill="#1010e8" stroke="#0a0a34" stroke-width="1.3"/><circle cx="384.5" cy="391.5" r="1.7" fill="#1010e8" stroke="#0a0a34" stroke-width="1.3"/><circle cx="384.5" cy="394.2" r="1.7" fill="#1010e8" stroke="#0a0a34" stroke-width="1.3"/><circle cx="384.5" cy="401.3" r="1.7" fill="#1010e8" stroke="#0a0a34" stroke-width="1.3"/><circle cx="384.5" cy="406.1" r="1.7" fill="#1010e8" stroke="#0a0a34" stroke-width="1.3"/><circle cx="398.6" cy="367.2" r="1.7" fill="#1010e8" stroke="#0a0a34" stroke-width="1.3"/><circle cx="398.6" cy="381.5" r="1.7" fill="#1010e8" stroke="#0a0a34" stroke-width="1.3"/><circle cx="398.6" cy="385.5" r="1.7" fill="#1010e8" stroke="#0a0a34" stroke-width="1.3"/><circle cx="398.6" cy="398.0" r="1.7" fill="#1010e8" stroke="#0a0a34" stroke-width="1.3"/><circle cx="412.8" cy="376.3" r="1.7" fill="#1010e8" stroke="#0a0a34" stroke-width="1.3"/><circle cx="412.8" cy="379.0" r="1.7" fill="#1010e8" stroke="#0a0a34" stroke-width="1.3"/><circle cx="412.8" cy="384.6" r="1.7" fill="#1010e8" stroke="#0a0a34" stroke-width="1.3"/><circle cx="426.9" cy="377.6" r="1.7" fill="#1010e8" stroke="#0a0a34" stroke-width="1.3"/><circle cx="426.9" cy="379.9" r="1.7" fill="#1010e8" stroke="#0a0a34" stroke-width="1.3"/><circle cx="426.9" cy="388.8" r="1.7" fill="#1010e8" stroke="#0a0a34" stroke-width="1.3"/><circle cx="426.9" cy="407.5" r="1.7" fill="#1010e8" stroke="#0a0a34" stroke-width="1.3"/><circle cx="441.1" cy="376.8" r="1.7" fill="#1010e8" stroke="#0a0a34" stroke-width="1.3"/><circle cx="441.1" cy="381.0" r="1.7" fill="#1010e8" stroke="#0a0a34" stroke-width="1.3"/><circle cx="441.1" cy="386.0" r="1.7" fill="#1010e8" stroke="#0a0a34" stroke-width="1.3"/><circle cx="441.1" cy="417.2" r="1.7" fill="#1010e8" stroke="#0a0a34" stroke-width="1.3"/><circle cx="455.2" cy="378.2" r="1.7" fill="#1010e8" stroke="#0a0a34" stroke-width="1.3"/><circle cx="455.2" cy="383.8" r="1.7" fill="#1010e8" stroke="#0a0a34" stroke-width="1.3"/><circle cx="455.2" cy="387.4" r="1.7" fill="#1010e8" stroke="#0a0a34" stroke-width="1.3"/><circle cx="469.4" cy="362.3" r="1.7" fill="#1010e8" stroke="#0a0a34" stroke-width="1.3"/><circle cx="469.4" cy="374.3" r="1.7" fill="#1010e8" stroke="#0a0a34" stroke-width="1.3"/><circle cx="469.4" cy="377.6" r="1.7" fill="#1010e8" stroke="#0a0a34" stroke-width="1.3"/><circle cx="483.6" cy="367.6" r="1.7" fill="#1010e8" stroke="#0a0a34" stroke-width="1.3"/><circle cx="483.6" cy="379.9" r="1.7" fill="#1010e8" stroke="#0a0a34" stroke-width="1.3"/><circle cx="483.6" cy="390.2" r="1.7" fill="#1010e8" stroke="#0a0a34" stroke-width="1.3"/><circle cx="483.6" cy="407.2" r="1.7" fill="#1010e8" stroke="#0a0a34" stroke-width="1.3"/><circle cx="497.7" cy="381.0" r="1.7" fill="#1010e8" stroke="#0a0a34" stroke-width="1.3"/><circle cx="497.7" cy="387.4" r="1.7" fill="#1010e8" stroke="#0a0a34" stroke-width="1.3"/><circle cx="497.7" cy="391.6" r="1.7" fill="#1010e8" stroke="#0a0a34" stroke-width="1.3"/><circle cx="511.9" cy="357.6" r="1.7" fill="#1010e8" stroke="#0a0a34" stroke-width="1.3"/><circle cx="511.9" cy="371.2" r="1.7" fill="#1010e8" stroke="#0a0a34" stroke-width="1.3"/><circle cx="511.9" cy="383.2" r="1.7" fill="#1010e8" stroke="#0a0a34" stroke-width="1.3"/><circle cx="511.9" cy="386.8" r="1.7" fill="#1010e8" stroke="#0a0a34" stroke-width="1.3"/><rect x="-2.3" y="-2.3" width="4.6" height="4.6" fill="#111" transform="translate(271.3,407) rotate(45)"/>
</svg>
</body></html>
